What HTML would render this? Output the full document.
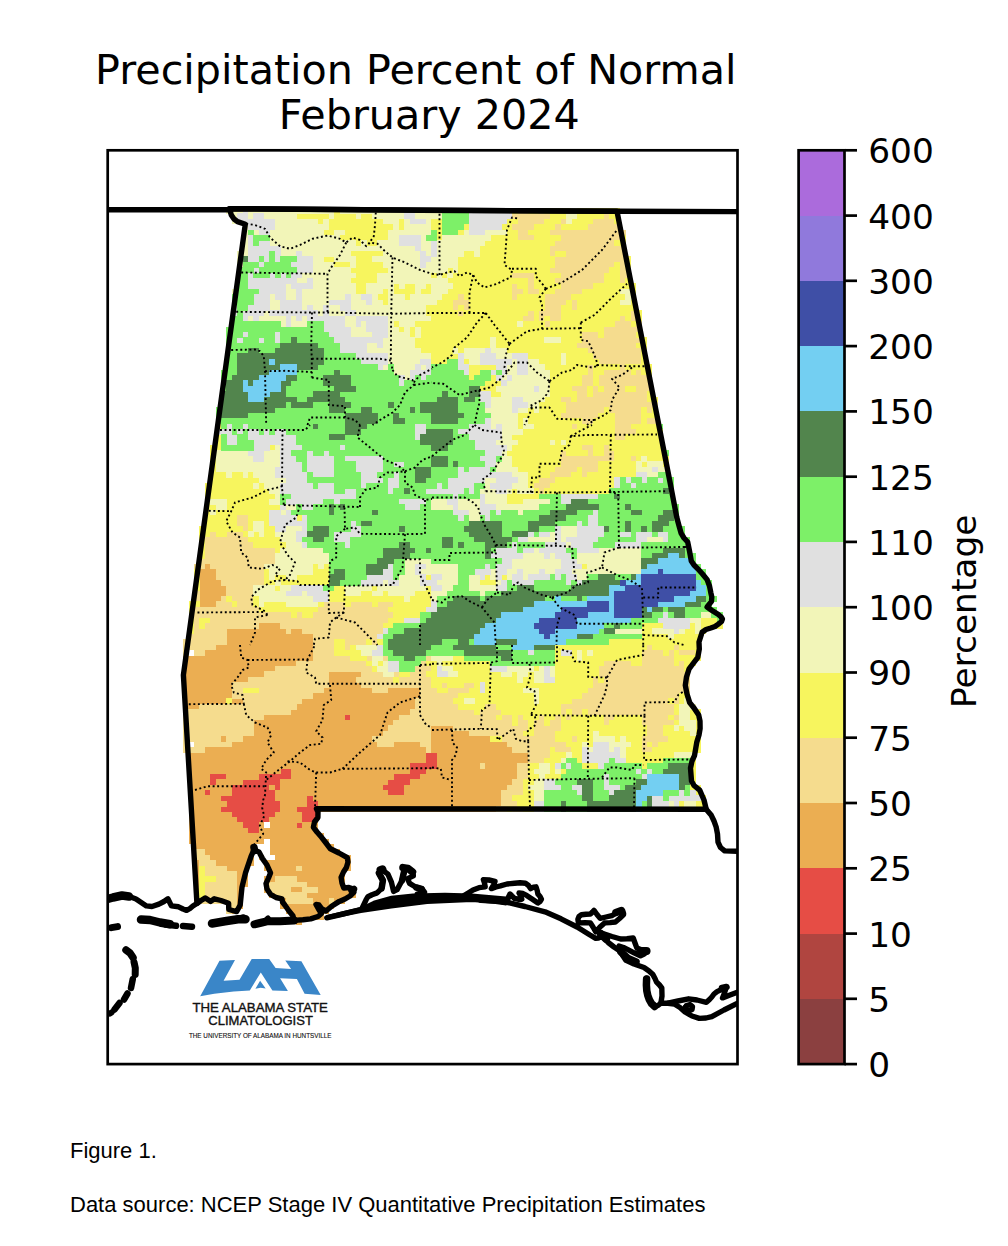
<!DOCTYPE html>
<html lang="en">
<head>
<meta charset="utf-8">
<title>Precipitation Percent of Normal - February 2024</title>
<style>
html,body{margin:0;padding:0;background:#fff;}
body{width:1008px;height:1246px;position:relative;overflow:hidden;font-family:"Liberation Sans",sans-serif;}
svg{position:absolute;left:0;top:0;}
.dj{font-family:"DejaVu Sans","Liberation Sans",sans-serif;fill:#000;}
.cap{position:absolute;left:70px;font-size:22px;line-height:26px;color:#000;white-space:nowrap;}
</style>
</head>
<body>
<svg width="1008" height="1246" viewBox="0 0 1008 1246">
<defs>
<clipPath id="frame"><rect x="108" y="151" width="629" height="912"/></clipPath>
</defs>
<!-- title -->
<text class="dj" x="415.8" y="84" font-size="41.25" text-anchor="middle">Precipitation Percent of Normal</text>
<text class="dj" x="429.3" y="128.6" font-size="41.25" text-anchor="middle">February 2024</text>

<g clip-path="url(#frame)" shape-rendering="crispEdges">
<path fill="#e64d45" d="M344.92,714.60h5.69v5.69h-5.69zM425.77,752.33h11.08v5.69h-11.08zM425.77,757.72h11.08v5.69h-11.08zM409.60,763.11h27.25v5.69h-27.25zM280.24,768.50h11.08v5.69h-11.08zM409.60,768.50h16.47v5.69h-16.47zM210.17,773.89h16.47v5.69h-16.47zM258.68,773.89h32.64v5.69h-32.64zM393.43,773.89h27.25v5.69h-27.25zM210.17,779.28h5.69v5.69h-5.69zM242.51,779.28h38.03v5.69h-38.03zM388.04,779.28h21.86v5.69h-21.86zM231.73,784.67h38.03v5.69h-38.03zM274.85,784.67h5.69v5.69h-5.69zM382.65,784.67h21.86v5.69h-21.86zM204.78,790.06h5.69v5.69h-5.69zM231.73,790.06h43.42v5.69h-43.42zM388.04,790.06h16.47v5.69h-16.47zM220.95,795.45h54.20v5.69h-54.20zM307.19,795.45h5.69v5.69h-5.69zM226.34,800.84h54.20v5.69h-54.20zM307.19,800.84h11.08v5.69h-11.08zM220.95,806.23h59.59v5.69h-59.59zM296.41,806.23h21.86v5.69h-21.86zM231.73,811.62h43.42v5.69h-43.42zM301.80,811.62h16.47v5.69h-16.47zM237.12,817.01h32.64v5.69h-32.64zM301.80,817.01h16.47v5.69h-16.47zM242.51,822.40h16.47v5.69h-16.47zM296.41,822.40h5.69v5.69h-5.69zM247.90,827.79h11.08v5.69h-11.08z"/>
<path fill="#ebae52" d="M204.78,563.68h5.69v5.69h-5.69zM199.39,569.07h16.47v5.69h-16.47zM199.39,574.46h16.47v5.69h-16.47zM199.39,579.85h21.86v5.69h-21.86zM199.39,585.24h27.25v5.69h-27.25zM199.39,590.63h27.25v5.69h-27.25zM199.39,596.02h21.86v5.69h-21.86zM199.39,601.41h16.47v5.69h-16.47zM258.68,622.97h21.86v5.69h-21.86zM226.34,628.36h59.59v5.69h-59.59zM291.02,628.36h11.08v5.69h-11.08zM226.34,633.75h86.54v5.69h-86.54zM226.34,639.14h86.54v5.69h-86.54zM215.56,644.53h97.32v5.69h-97.32zM204.78,649.92h108.10v5.69h-108.10zM183.22,655.31h129.66v5.69h-129.66zM183.22,660.70h113.49v5.69h-113.49zM183.22,666.09h91.93v5.69h-91.93zM183.22,671.48h81.15v5.69h-81.15zM328.75,671.48h32.64v5.69h-32.64zM183.22,676.87h64.98v5.69h-64.98zM328.75,676.87h27.25v5.69h-27.25zM183.22,682.26h48.81v5.69h-48.81zM328.75,682.26h32.64v5.69h-32.64zM183.22,687.65h48.81v5.69h-48.81zM323.36,687.65h48.81v5.69h-48.81zM388.04,687.65h32.64v5.69h-32.64zM183.22,693.04h48.81v5.69h-48.81zM312.58,693.04h108.10v5.69h-108.10zM183.22,698.43h43.42v5.69h-43.42zM231.73,698.43h11.08v5.69h-11.08zM301.80,698.43h113.49v5.69h-113.49zM183.22,703.82h16.47v5.69h-16.47zM296.41,703.82h118.88v5.69h-118.88zM291.02,709.21h118.88v5.69h-118.88zM264.07,714.60h81.15v5.69h-81.15zM350.31,714.60h48.81v5.69h-48.81zM253.29,719.99h140.44v5.69h-140.44zM253.29,725.38h135.05v5.69h-135.05zM431.16,725.38h21.86v5.69h-21.86zM253.29,730.77h129.66v5.69h-129.66zM431.16,730.77h38.03v5.69h-38.03zM220.95,736.16h5.69v5.69h-5.69zM242.51,736.16h129.66v5.69h-129.66zM431.16,736.16h59.59v5.69h-59.59zM231.73,741.55h145.83v5.69h-145.83zM393.43,741.55h27.25v5.69h-27.25zM431.16,741.55h75.76v5.69h-75.76zM204.78,746.94h221.29v5.69h-221.29zM431.16,746.94h81.15v5.69h-81.15zM188.61,752.33h237.46v5.69h-237.46zM436.55,752.33h91.93v5.69h-91.93zM188.61,757.72h237.46v5.69h-237.46zM436.55,757.72h91.93v5.69h-91.93zM188.61,763.11h221.29v5.69h-221.29zM436.55,763.11h43.42v5.69h-43.42zM485.06,763.11h32.64v5.69h-32.64zM188.61,768.50h91.93v5.69h-91.93zM291.02,768.50h118.88v5.69h-118.88zM425.77,768.50h91.93v5.69h-91.93zM188.61,773.89h21.86v5.69h-21.86zM226.34,773.89h32.64v5.69h-32.64zM291.02,773.89h102.71v5.69h-102.71zM420.38,773.89h97.32v5.69h-97.32zM188.61,779.28h21.86v5.69h-21.86zM215.56,779.28h27.25v5.69h-27.25zM280.24,779.28h108.10v5.69h-108.10zM409.60,779.28h102.71v5.69h-102.71zM188.61,784.67h43.42v5.69h-43.42zM269.46,784.67h5.69v5.69h-5.69zM280.24,784.67h102.71v5.69h-102.71zM404.21,784.67h102.71v5.69h-102.71zM188.61,790.06h16.47v5.69h-16.47zM210.17,790.06h21.86v5.69h-21.86zM274.85,790.06h113.49v5.69h-113.49zM404.21,790.06h97.32v5.69h-97.32zM188.61,795.45h32.64v5.69h-32.64zM274.85,795.45h32.64v5.69h-32.64zM312.58,795.45h188.95v5.69h-188.95zM188.61,800.84h38.03v5.69h-38.03zM280.24,800.84h27.25v5.69h-27.25zM317.97,800.84h183.56v5.69h-183.56zM188.61,806.23h32.64v5.69h-32.64zM280.24,806.23h16.47v5.69h-16.47zM317.97,806.23h178.17v5.69h-178.17zM188.61,811.62h43.42v5.69h-43.42zM274.85,811.62h27.25v5.69h-27.25zM188.61,817.01h48.81v5.69h-48.81zM269.46,817.01h32.64v5.69h-32.64zM188.61,822.40h54.20v5.69h-54.20zM258.68,822.40h5.69v5.69h-5.69zM269.46,822.40h27.25v5.69h-27.25zM301.80,822.40h16.47v5.69h-16.47zM188.61,827.79h59.59v5.69h-59.59zM258.68,827.79h59.59v5.69h-59.59zM188.61,833.18h135.05v5.69h-135.05zM188.61,838.57h75.76v5.69h-75.76zM269.46,838.57h59.59v5.69h-59.59zM194.00,843.96h59.59v5.69h-59.59zM269.46,843.96h64.98v5.69h-64.98zM204.78,849.35h48.81v5.69h-48.81zM269.46,849.35h70.37v5.69h-70.37zM210.17,854.74h43.42v5.69h-43.42zM258.68,854.74h5.69v5.69h-5.69zM274.85,854.74h75.76v5.69h-75.76zM194.00,860.13h5.69v5.69h-5.69zM215.56,860.13h38.03v5.69h-38.03zM264.07,860.13h86.54v5.69h-86.54zM194.00,865.52h5.69v5.69h-5.69zM226.34,865.52h21.86v5.69h-21.86zM264.07,865.52h32.64v5.69h-32.64zM301.80,865.52h48.81v5.69h-48.81zM194.00,870.91h5.69v5.69h-5.69zM237.12,870.91h11.08v5.69h-11.08zM269.46,870.91h75.76v5.69h-75.76zM194.00,876.30h5.69v5.69h-5.69zM237.12,876.30h11.08v5.69h-11.08zM264.07,876.30h11.08v5.69h-11.08zM296.41,876.30h48.81v5.69h-48.81zM194.00,881.69h5.69v5.69h-5.69zM237.12,881.69h11.08v5.69h-11.08zM264.07,881.69h5.69v5.69h-5.69zM307.19,881.69h38.03v5.69h-38.03zM194.00,887.08h5.69v5.69h-5.69zM237.12,887.08h5.69v5.69h-5.69zM264.07,887.08h5.69v5.69h-5.69zM291.02,887.08h11.08v5.69h-11.08zM317.97,887.08h38.03v5.69h-38.03zM194.00,892.47h5.69v5.69h-5.69zM237.12,892.47h5.69v5.69h-5.69zM269.46,892.47h5.69v5.69h-5.69zM307.19,892.47h48.81v5.69h-48.81zM194.00,897.86h5.69v5.69h-5.69zM237.12,897.86h5.69v5.69h-5.69zM280.24,897.86h5.69v5.69h-5.69zM312.58,897.86h16.47v5.69h-16.47zM334.14,897.86h11.08v5.69h-11.08zM237.12,903.25h5.69v5.69h-5.69zM280.24,903.25h54.20v5.69h-54.20zM231.73,908.64h5.69v5.69h-5.69zM285.63,908.64h43.42v5.69h-43.42zM291.02,914.03h32.64v5.69h-32.64zM296.41,919.42h5.69v5.69h-5.69z"/>
<path fill="#f5dc8e" d="M517.40,207.94h11.08v5.69h-11.08zM538.96,207.94h5.69v5.69h-5.69zM512.01,213.33h38.03v5.69h-38.03zM603.64,213.33h5.69v5.69h-5.69zM517.40,218.72h27.25v5.69h-27.25zM560.52,218.72h5.69v5.69h-5.69zM592.86,218.72h21.86v5.69h-21.86zM512.01,224.11h21.86v5.69h-21.86zM555.13,224.11h5.69v5.69h-5.69zM587.47,224.11h32.64v5.69h-32.64zM517.40,229.50h11.08v5.69h-11.08zM549.74,229.50h75.76v5.69h-75.76zM517.40,234.89h16.47v5.69h-16.47zM560.52,234.89h59.59v5.69h-59.59zM555.13,240.28h59.59v5.69h-59.59zM549.74,245.67h75.76v5.69h-75.76zM549.74,251.06h5.69v5.69h-5.69zM565.91,251.06h59.59v5.69h-59.59zM555.13,256.45h70.37v5.69h-70.37zM555.13,261.84h59.59v5.69h-59.59zM619.81,261.84h5.69v5.69h-5.69zM549.74,267.23h59.59v5.69h-59.59zM619.81,267.23h11.08v5.69h-11.08zM512.01,272.62h21.86v5.69h-21.86zM560.52,272.62h43.42v5.69h-43.42zM619.81,272.62h11.08v5.69h-11.08zM528.18,278.01h5.69v5.69h-5.69zM555.13,278.01h48.81v5.69h-48.81zM619.81,278.01h5.69v5.69h-5.69zM512.01,283.40h5.69v5.69h-5.69zM528.18,283.40h5.69v5.69h-5.69zM560.52,283.40h32.64v5.69h-32.64zM512.01,288.79h11.08v5.69h-11.08zM528.18,288.79h11.08v5.69h-11.08zM555.13,288.79h27.25v5.69h-27.25zM458.11,294.18h5.69v5.69h-5.69zM512.01,294.18h5.69v5.69h-5.69zM544.35,294.18h27.25v5.69h-27.25zM452.72,299.57h16.47v5.69h-16.47zM544.35,299.57h21.86v5.69h-21.86zM571.30,299.57h5.69v5.69h-5.69zM452.72,304.96h5.69v5.69h-5.69zM463.50,304.96h5.69v5.69h-5.69zM544.35,304.96h16.47v5.69h-16.47zM571.30,304.96h5.69v5.69h-5.69zM458.11,310.35h5.69v5.69h-5.69zM528.18,310.35h5.69v5.69h-5.69zM538.96,310.35h21.86v5.69h-21.86zM630.59,310.35h5.69v5.69h-5.69zM522.79,315.74h11.08v5.69h-11.08zM538.96,315.74h5.69v5.69h-5.69zM549.74,315.74h11.08v5.69h-11.08zM619.81,315.74h5.69v5.69h-5.69zM630.59,315.74h5.69v5.69h-5.69zM544.35,321.13h5.69v5.69h-5.69zM614.42,321.13h16.47v5.69h-16.47zM635.98,321.13h5.69v5.69h-5.69zM603.64,326.52h38.03v5.69h-38.03zM582.08,331.91h16.47v5.69h-16.47zM603.64,331.91h32.64v5.69h-32.64zM582.08,337.30h59.59v5.69h-59.59zM576.69,342.69h59.59v5.69h-59.59zM587.47,348.08h54.20v5.69h-54.20zM592.86,353.47h48.81v5.69h-48.81zM598.25,358.86h43.42v5.69h-43.42zM587.47,364.25h5.69v5.69h-5.69zM619.81,364.25h5.69v5.69h-5.69zM587.47,369.64h5.69v5.69h-5.69zM603.64,369.64h27.25v5.69h-27.25zM635.98,369.64h5.69v5.69h-5.69zM582.08,375.03h11.08v5.69h-11.08zM598.25,375.03h48.81v5.69h-48.81zM582.08,380.42h11.08v5.69h-11.08zM598.25,380.42h54.20v5.69h-54.20zM571.30,385.81h16.47v5.69h-16.47zM592.86,385.81h5.69v5.69h-5.69zM603.64,385.81h21.86v5.69h-21.86zM635.98,385.81h16.47v5.69h-16.47zM576.69,391.20h11.08v5.69h-11.08zM592.86,391.20h54.20v5.69h-54.20zM560.52,396.59h11.08v5.69h-11.08zM576.69,396.59h70.37v5.69h-70.37zM565.91,401.98h91.93v5.69h-91.93zM565.91,407.37h38.03v5.69h-38.03zM609.03,407.37h32.64v5.69h-32.64zM646.76,407.37h5.69v5.69h-5.69zM560.52,412.76h38.03v5.69h-38.03zM614.42,412.76h27.25v5.69h-27.25zM582.08,418.15h11.08v5.69h-11.08zM614.42,418.15h27.25v5.69h-27.25zM646.76,418.15h11.08v5.69h-11.08zM571.30,423.54h5.69v5.69h-5.69zM614.42,423.54h16.47v5.69h-16.47zM614.42,428.93h21.86v5.69h-21.86zM614.42,434.32h11.08v5.69h-11.08zM582.08,445.10h11.08v5.69h-11.08zM603.64,445.10h5.69v5.69h-5.69zM560.52,450.49h5.69v5.69h-5.69zM587.47,450.49h5.69v5.69h-5.69zM603.64,450.49h11.08v5.69h-11.08zM560.52,455.88h54.20v5.69h-54.20zM630.59,455.88h5.69v5.69h-5.69zM560.52,461.27h38.03v5.69h-38.03zM555.13,466.66h21.86v5.69h-21.86zM582.08,466.66h16.47v5.69h-16.47zM549.74,472.05h21.86v5.69h-21.86zM582.08,472.05h5.69v5.69h-5.69zM538.96,477.44h16.47v5.69h-16.47zM533.57,482.83h16.47v5.69h-16.47zM538.96,488.22h5.69v5.69h-5.69zM237.12,515.17h11.08v5.69h-11.08zM237.12,520.56h11.08v5.69h-11.08zM242.51,525.95h5.69v5.69h-5.69zM210.17,531.34h5.69v5.69h-5.69zM226.34,531.34h16.47v5.69h-16.47zM204.78,536.73h43.42v5.69h-43.42zM204.78,542.12h48.81v5.69h-48.81zM204.78,547.51h70.37v5.69h-70.37zM204.78,552.90h70.37v5.69h-70.37zM199.39,558.29h75.76v5.69h-75.76zM194.00,563.68h11.08v5.69h-11.08zM210.17,563.68h54.20v5.69h-54.20zM215.56,569.07h48.81v5.69h-48.81zM215.56,574.46h48.81v5.69h-48.81zM220.95,579.85h43.42v5.69h-43.42zM226.34,585.24h27.25v5.69h-27.25zM194.00,590.63h5.69v5.69h-5.69zM226.34,590.63h27.25v5.69h-27.25zM194.00,596.02h5.69v5.69h-5.69zM220.95,596.02h5.69v5.69h-5.69zM231.73,596.02h21.86v5.69h-21.86zM215.56,601.41h16.47v5.69h-16.47zM237.12,601.41h16.47v5.69h-16.47zM323.36,601.41h21.86v5.69h-21.86zM350.31,601.41h21.86v5.69h-21.86zM377.26,601.41h16.47v5.69h-16.47zM194.00,606.80h64.98v5.69h-64.98zM317.97,606.80h70.37v5.69h-70.37zM194.00,612.19h97.32v5.69h-97.32zM296.41,612.19h5.69v5.69h-5.69zM312.58,612.19h81.15v5.69h-81.15zM194.00,617.58h5.69v5.69h-5.69zM210.17,617.58h178.17v5.69h-178.17zM194.00,622.97h5.69v5.69h-5.69zM204.78,622.97h54.20v5.69h-54.20zM280.24,622.97h102.71v5.69h-102.71zM194.00,628.36h32.64v5.69h-32.64zM285.63,628.36h5.69v5.69h-5.69zM301.80,628.36h81.15v5.69h-81.15zM188.61,633.75h38.03v5.69h-38.03zM312.58,633.75h64.98v5.69h-64.98zM183.22,639.14h43.42v5.69h-43.42zM312.58,639.14h21.86v5.69h-21.86zM344.92,639.14h21.86v5.69h-21.86zM371.87,639.14h5.69v5.69h-5.69zM183.22,644.53h32.64v5.69h-32.64zM312.58,644.53h21.86v5.69h-21.86zM344.92,644.53h5.69v5.69h-5.69zM646.76,644.53h5.69v5.69h-5.69zM673.71,644.53h5.69v5.69h-5.69zM183.22,649.92h5.69v5.69h-5.69zM194.00,649.92h11.08v5.69h-11.08zM312.58,649.92h21.86v5.69h-21.86zM641.37,649.92h21.86v5.69h-21.86zM668.32,649.92h5.69v5.69h-5.69zM679.10,649.92h16.47v5.69h-16.47zM312.58,655.31h38.03v5.69h-38.03zM366.48,655.31h5.69v5.69h-5.69zM382.65,655.31h5.69v5.69h-5.69zM425.77,655.31h5.69v5.69h-5.69zM641.37,655.31h32.64v5.69h-32.64zM296.41,660.70h70.37v5.69h-70.37zM420.38,660.70h5.69v5.69h-5.69zM603.64,660.70h27.25v5.69h-27.25zM641.37,660.70h32.64v5.69h-32.64zM679.10,660.70h5.69v5.69h-5.69zM274.85,666.09h97.32v5.69h-97.32zM414.99,666.09h16.47v5.69h-16.47zM598.25,666.09h86.54v5.69h-86.54zM264.07,671.48h64.98v5.69h-64.98zM361.09,671.48h21.86v5.69h-21.86zM393.43,671.48h5.69v5.69h-5.69zM409.60,671.48h16.47v5.69h-16.47zM598.25,671.48h91.93v5.69h-91.93zM247.90,676.87h81.15v5.69h-81.15zM355.70,676.87h38.03v5.69h-38.03zM398.82,676.87h32.64v5.69h-32.64zM592.86,676.87h5.69v5.69h-5.69zM603.64,676.87h86.54v5.69h-86.54zM231.73,682.26h97.32v5.69h-97.32zM361.09,682.26h70.37v5.69h-70.37zM441.94,682.26h5.69v5.69h-5.69zM463.50,682.26h11.08v5.69h-11.08zM592.86,682.26h97.32v5.69h-97.32zM231.73,687.65h11.08v5.69h-11.08zM258.68,687.65h64.98v5.69h-64.98zM371.87,687.65h16.47v5.69h-16.47zM420.38,687.65h16.47v5.69h-16.47zM447.33,687.65h21.86v5.69h-21.86zM587.47,687.65h102.71v5.69h-102.71zM231.73,693.04h81.15v5.69h-81.15zM420.38,693.04h38.03v5.69h-38.03zM582.08,693.04h97.32v5.69h-97.32zM242.51,698.43h59.59v5.69h-59.59zM414.99,698.43h38.03v5.69h-38.03zM571.30,698.43h97.32v5.69h-97.32zM673.71,698.43h5.69v5.69h-5.69zM199.39,703.82h97.32v5.69h-97.32zM414.99,703.82h43.42v5.69h-43.42zM485.06,703.82h11.08v5.69h-11.08zM560.52,703.82h113.49v5.69h-113.49zM183.22,709.21h108.10v5.69h-108.10zM409.60,709.21h64.98v5.69h-64.98zM479.67,709.21h21.86v5.69h-21.86zM560.52,709.21h5.69v5.69h-5.69zM571.30,709.21h11.08v5.69h-11.08zM587.47,709.21h86.54v5.69h-86.54zM183.22,714.60h81.15v5.69h-81.15zM398.82,714.60h97.32v5.69h-97.32zM501.23,714.60h11.08v5.69h-11.08zM517.40,714.60h5.69v5.69h-5.69zM538.96,714.60h5.69v5.69h-5.69zM555.13,714.60h5.69v5.69h-5.69zM565.91,714.60h5.69v5.69h-5.69zM603.64,714.60h11.08v5.69h-11.08zM641.37,714.60h27.25v5.69h-27.25zM673.71,714.60h5.69v5.69h-5.69zM183.22,719.99h70.37v5.69h-70.37zM393.43,719.99h118.88v5.69h-118.88zM517.40,719.99h11.08v5.69h-11.08zM533.57,719.99h11.08v5.69h-11.08zM549.74,719.99h11.08v5.69h-11.08zM603.64,719.99h5.69v5.69h-5.69zM641.37,719.99h32.64v5.69h-32.64zM183.22,725.38h70.37v5.69h-70.37zM388.04,725.38h43.42v5.69h-43.42zM452.72,725.38h75.76v5.69h-75.76zM533.57,725.38h27.25v5.69h-27.25zM646.76,725.38h16.47v5.69h-16.47zM183.22,730.77h70.37v5.69h-70.37zM382.65,730.77h48.81v5.69h-48.81zM468.89,730.77h54.20v5.69h-54.20zM533.57,730.77h21.86v5.69h-21.86zM646.76,730.77h16.47v5.69h-16.47zM183.22,736.16h38.03v5.69h-38.03zM226.34,736.16h16.47v5.69h-16.47zM371.87,736.16h59.59v5.69h-59.59zM501.23,736.16h54.20v5.69h-54.20zM571.30,736.16h5.69v5.69h-5.69zM641.37,736.16h27.25v5.69h-27.25zM183.22,741.55h5.69v5.69h-5.69zM194.00,741.55h38.03v5.69h-38.03zM377.26,741.55h16.47v5.69h-16.47zM420.38,741.55h11.08v5.69h-11.08zM506.62,741.55h59.59v5.69h-59.59zM641.37,741.55h5.69v5.69h-5.69zM652.15,741.55h5.69v5.69h-5.69zM183.22,746.94h21.86v5.69h-21.86zM425.77,746.94h5.69v5.69h-5.69zM512.01,746.94h38.03v5.69h-38.03zM555.13,746.94h16.47v5.69h-16.47zM641.37,746.94h11.08v5.69h-11.08zM528.18,752.33h21.86v5.69h-21.86zM528.18,757.72h16.47v5.69h-16.47zM479.67,763.11h5.69v5.69h-5.69zM517.40,763.11h11.08v5.69h-11.08zM517.40,768.50h11.08v5.69h-11.08zM517.40,773.89h11.08v5.69h-11.08zM512.01,779.28h11.08v5.69h-11.08zM506.62,784.67h16.47v5.69h-16.47zM501.23,790.06h21.86v5.69h-21.86zM501.23,795.45h11.08v5.69h-11.08zM501.23,800.84h16.47v5.69h-16.47zM495.84,806.23h11.08v5.69h-11.08zM512.01,806.23h11.08v5.69h-11.08zM194.00,849.35h11.08v5.69h-11.08zM194.00,854.74h16.47v5.69h-16.47zM199.39,860.13h16.47v5.69h-16.47zM204.78,865.52h21.86v5.69h-21.86zM296.41,865.52h5.69v5.69h-5.69zM204.78,870.91h32.64v5.69h-32.64zM215.56,876.30h21.86v5.69h-21.86zM274.85,876.30h21.86v5.69h-21.86zM204.78,881.69h32.64v5.69h-32.64zM269.46,881.69h38.03v5.69h-38.03zM204.78,887.08h32.64v5.69h-32.64zM269.46,887.08h21.86v5.69h-21.86zM301.80,887.08h16.47v5.69h-16.47zM204.78,892.47h32.64v5.69h-32.64zM274.85,892.47h32.64v5.69h-32.64zM199.39,897.86h38.03v5.69h-38.03zM285.63,897.86h27.25v5.69h-27.25zM328.75,897.86h5.69v5.69h-5.69zM226.34,903.25h11.08v5.69h-11.08zM226.34,908.64h5.69v5.69h-5.69z"/>
<path fill="#f7f55e" d="M334.14,207.94h5.69v5.69h-5.69zM431.16,207.94h86.54v5.69h-86.54zM528.18,207.94h11.08v5.69h-11.08zM544.35,207.94h27.25v5.69h-27.25zM576.69,207.94h43.42v5.69h-43.42zM296.41,213.33h32.64v5.69h-32.64zM334.14,213.33h21.86v5.69h-21.86zM361.09,213.33h11.08v5.69h-11.08zM549.74,213.33h16.47v5.69h-16.47zM576.69,213.33h27.25v5.69h-27.25zM609.03,213.33h11.08v5.69h-11.08zM317.97,218.72h5.69v5.69h-5.69zM328.75,218.72h54.20v5.69h-54.20zM398.82,218.72h5.69v5.69h-5.69zM431.16,218.72h11.08v5.69h-11.08zM506.62,218.72h11.08v5.69h-11.08zM544.35,218.72h16.47v5.69h-16.47zM571.30,218.72h21.86v5.69h-21.86zM614.42,218.72h5.69v5.69h-5.69zM328.75,224.11h64.98v5.69h-64.98zM398.82,224.11h5.69v5.69h-5.69zM431.16,224.11h11.08v5.69h-11.08zM463.50,224.11h5.69v5.69h-5.69zM501.23,224.11h11.08v5.69h-11.08zM533.57,224.11h21.86v5.69h-21.86zM560.52,224.11h27.25v5.69h-27.25zM323.36,229.50h11.08v5.69h-11.08zM344.92,229.50h43.42v5.69h-43.42zM436.55,229.50h5.69v5.69h-5.69zM458.11,229.50h5.69v5.69h-5.69zM506.62,229.50h11.08v5.69h-11.08zM528.18,229.50h21.86v5.69h-21.86zM339.53,234.89h48.81v5.69h-48.81zM436.55,234.89h5.69v5.69h-5.69zM490.45,234.89h27.25v5.69h-27.25zM533.57,234.89h27.25v5.69h-27.25zM619.81,234.89h5.69v5.69h-5.69zM355.70,240.28h5.69v5.69h-5.69zM366.48,240.28h11.08v5.69h-11.08zM485.06,240.28h70.37v5.69h-70.37zM614.42,240.28h11.08v5.69h-11.08zM479.67,245.67h70.37v5.69h-70.37zM350.31,251.06h32.64v5.69h-32.64zM463.50,251.06h11.08v5.69h-11.08zM479.67,251.06h70.37v5.69h-70.37zM555.13,251.06h11.08v5.69h-11.08zM323.36,256.45h11.08v5.69h-11.08zM355.70,256.45h16.47v5.69h-16.47zM458.11,256.45h97.32v5.69h-97.32zM625.20,256.45h5.69v5.69h-5.69zM334.14,261.84h16.47v5.69h-16.47zM355.70,261.84h27.25v5.69h-27.25zM458.11,261.84h97.32v5.69h-97.32zM614.42,261.84h5.69v5.69h-5.69zM625.20,261.84h5.69v5.69h-5.69zM350.31,267.23h38.03v5.69h-38.03zM447.33,267.23h5.69v5.69h-5.69zM458.11,267.23h91.93v5.69h-91.93zM609.03,267.23h11.08v5.69h-11.08zM355.70,272.62h21.86v5.69h-21.86zM431.16,272.62h5.69v5.69h-5.69zM441.94,272.62h5.69v5.69h-5.69zM452.72,272.62h59.59v5.69h-59.59zM533.57,272.62h27.25v5.69h-27.25zM603.64,272.62h16.47v5.69h-16.47zM350.31,278.01h27.25v5.69h-27.25zM447.33,278.01h81.15v5.69h-81.15zM533.57,278.01h21.86v5.69h-21.86zM603.64,278.01h16.47v5.69h-16.47zM625.20,278.01h5.69v5.69h-5.69zM355.70,283.40h11.08v5.69h-11.08zM393.43,283.40h5.69v5.69h-5.69zM404.21,283.40h11.08v5.69h-11.08zM425.77,283.40h5.69v5.69h-5.69zM452.72,283.40h59.59v5.69h-59.59zM517.40,283.40h11.08v5.69h-11.08zM533.57,283.40h27.25v5.69h-27.25zM592.86,283.40h43.42v5.69h-43.42zM355.70,288.79h11.08v5.69h-11.08zM382.65,288.79h5.69v5.69h-5.69zM393.43,288.79h21.86v5.69h-21.86zM420.38,288.79h11.08v5.69h-11.08zM447.33,288.79h64.98v5.69h-64.98zM522.79,288.79h5.69v5.69h-5.69zM538.96,288.79h16.47v5.69h-16.47zM582.08,288.79h38.03v5.69h-38.03zM630.59,288.79h5.69v5.69h-5.69zM377.26,294.18h11.08v5.69h-11.08zM404.21,294.18h5.69v5.69h-5.69zM441.94,294.18h16.47v5.69h-16.47zM463.50,294.18h48.81v5.69h-48.81zM517.40,294.18h27.25v5.69h-27.25zM571.30,294.18h54.20v5.69h-54.20zM382.65,299.57h5.69v5.69h-5.69zM436.55,299.57h16.47v5.69h-16.47zM468.89,299.57h75.76v5.69h-75.76zM565.91,299.57h5.69v5.69h-5.69zM576.69,299.57h43.42v5.69h-43.42zM630.59,299.57h5.69v5.69h-5.69zM425.77,304.96h27.25v5.69h-27.25zM458.11,304.96h5.69v5.69h-5.69zM468.89,304.96h75.76v5.69h-75.76zM560.52,304.96h11.08v5.69h-11.08zM576.69,304.96h59.59v5.69h-59.59zM425.77,310.35h32.64v5.69h-32.64zM463.50,310.35h64.98v5.69h-64.98zM533.57,310.35h5.69v5.69h-5.69zM560.52,310.35h70.37v5.69h-70.37zM635.98,310.35h5.69v5.69h-5.69zM431.16,315.74h91.93v5.69h-91.93zM533.57,315.74h5.69v5.69h-5.69zM544.35,315.74h5.69v5.69h-5.69zM560.52,315.74h59.59v5.69h-59.59zM625.20,315.74h5.69v5.69h-5.69zM635.98,315.74h5.69v5.69h-5.69zM393.43,321.13h5.69v5.69h-5.69zM414.99,321.13h102.71v5.69h-102.71zM522.79,321.13h21.86v5.69h-21.86zM549.74,321.13h64.98v5.69h-64.98zM630.59,321.13h5.69v5.69h-5.69zM398.82,326.52h5.69v5.69h-5.69zM409.60,326.52h5.69v5.69h-5.69zM420.38,326.52h183.56v5.69h-183.56zM409.60,331.91h5.69v5.69h-5.69zM420.38,331.91h162.00v5.69h-162.00zM598.25,331.91h5.69v5.69h-5.69zM635.98,331.91h5.69v5.69h-5.69zM414.99,337.30h75.76v5.69h-75.76zM495.84,337.30h48.81v5.69h-48.81zM560.52,337.30h21.86v5.69h-21.86zM641.37,337.30h5.69v5.69h-5.69zM414.99,342.69h75.76v5.69h-75.76zM495.84,342.69h81.15v5.69h-81.15zM635.98,342.69h11.08v5.69h-11.08zM420.38,348.08h32.64v5.69h-32.64zM458.11,348.08h5.69v5.69h-5.69zM506.62,348.08h81.15v5.69h-81.15zM641.37,348.08h5.69v5.69h-5.69zM431.16,353.47h27.25v5.69h-27.25zM528.18,353.47h32.64v5.69h-32.64zM565.91,353.47h27.25v5.69h-27.25zM641.37,353.47h5.69v5.69h-5.69zM431.16,358.86h16.47v5.69h-16.47zM463.50,358.86h5.69v5.69h-5.69zM538.96,358.86h21.86v5.69h-21.86zM565.91,358.86h32.64v5.69h-32.64zM641.37,358.86h5.69v5.69h-5.69zM468.89,364.25h27.25v5.69h-27.25zM544.35,364.25h43.42v5.69h-43.42zM592.86,364.25h27.25v5.69h-27.25zM625.20,364.25h27.25v5.69h-27.25zM468.89,369.64h11.08v5.69h-11.08zM549.74,369.64h38.03v5.69h-38.03zM592.86,369.64h11.08v5.69h-11.08zM630.59,369.64h5.69v5.69h-5.69zM641.37,369.64h11.08v5.69h-11.08zM468.89,375.03h5.69v5.69h-5.69zM490.45,375.03h5.69v5.69h-5.69zM549.74,375.03h32.64v5.69h-32.64zM592.86,375.03h5.69v5.69h-5.69zM646.76,375.03h5.69v5.69h-5.69zM485.06,380.42h16.47v5.69h-16.47zM549.74,380.42h32.64v5.69h-32.64zM592.86,380.42h5.69v5.69h-5.69zM479.67,385.81h16.47v5.69h-16.47zM549.74,385.81h21.86v5.69h-21.86zM587.47,385.81h5.69v5.69h-5.69zM598.25,385.81h5.69v5.69h-5.69zM625.20,385.81h11.08v5.69h-11.08zM490.45,391.20h11.08v5.69h-11.08zM549.74,391.20h27.25v5.69h-27.25zM587.47,391.20h5.69v5.69h-5.69zM646.76,391.20h5.69v5.69h-5.69zM544.35,396.59h16.47v5.69h-16.47zM571.30,396.59h5.69v5.69h-5.69zM646.76,396.59h11.08v5.69h-11.08zM538.96,401.98h27.25v5.69h-27.25zM528.18,407.37h5.69v5.69h-5.69zM538.96,407.37h27.25v5.69h-27.25zM603.64,407.37h5.69v5.69h-5.69zM641.37,407.37h5.69v5.69h-5.69zM652.15,407.37h5.69v5.69h-5.69zM517.40,412.76h43.42v5.69h-43.42zM598.25,412.76h16.47v5.69h-16.47zM641.37,412.76h16.47v5.69h-16.47zM517.40,418.15h5.69v5.69h-5.69zM528.18,418.15h54.20v5.69h-54.20zM592.86,418.15h21.86v5.69h-21.86zM641.37,418.15h5.69v5.69h-5.69zM215.56,423.54h5.69v5.69h-5.69zM517.40,423.54h5.69v5.69h-5.69zM533.57,423.54h38.03v5.69h-38.03zM576.69,423.54h38.03v5.69h-38.03zM630.59,423.54h27.25v5.69h-27.25zM522.79,428.93h91.93v5.69h-91.93zM635.98,428.93h27.25v5.69h-27.25zM215.56,434.32h5.69v5.69h-5.69zM512.01,434.32h102.71v5.69h-102.71zM625.20,434.32h38.03v5.69h-38.03zM215.56,439.71h5.69v5.69h-5.69zM517.40,439.71h32.64v5.69h-32.64zM555.13,439.71h5.69v5.69h-5.69zM565.91,439.71h97.32v5.69h-97.32zM210.17,445.10h11.08v5.69h-11.08zM269.46,445.10h5.69v5.69h-5.69zM512.01,445.10h70.37v5.69h-70.37zM592.86,445.10h11.08v5.69h-11.08zM609.03,445.10h54.20v5.69h-54.20zM210.17,450.49h5.69v5.69h-5.69zM506.62,450.49h54.20v5.69h-54.20zM565.91,450.49h21.86v5.69h-21.86zM592.86,450.49h11.08v5.69h-11.08zM614.42,450.49h48.81v5.69h-48.81zM210.17,455.88h5.69v5.69h-5.69zM512.01,455.88h48.81v5.69h-48.81zM614.42,455.88h16.47v5.69h-16.47zM635.98,455.88h5.69v5.69h-5.69zM646.76,455.88h21.86v5.69h-21.86zM210.17,461.27h5.69v5.69h-5.69zM512.01,461.27h48.81v5.69h-48.81zM598.25,461.27h38.03v5.69h-38.03zM641.37,461.27h5.69v5.69h-5.69zM662.93,461.27h5.69v5.69h-5.69zM210.17,466.66h5.69v5.69h-5.69zM517.40,466.66h38.03v5.69h-38.03zM576.69,466.66h5.69v5.69h-5.69zM598.25,466.66h38.03v5.69h-38.03zM210.17,472.05h16.47v5.69h-16.47zM231.73,472.05h11.08v5.69h-11.08zM247.90,472.05h5.69v5.69h-5.69zM528.18,472.05h21.86v5.69h-21.86zM571.30,472.05h11.08v5.69h-11.08zM587.47,472.05h48.81v5.69h-48.81zM210.17,477.44h48.81v5.69h-48.81zM528.18,477.44h11.08v5.69h-11.08zM555.13,477.44h59.59v5.69h-59.59zM204.78,482.83h48.81v5.69h-48.81zM258.68,482.83h5.69v5.69h-5.69zM528.18,482.83h5.69v5.69h-5.69zM549.74,482.83h64.98v5.69h-64.98zM204.78,488.22h64.98v5.69h-64.98zM512.01,488.22h5.69v5.69h-5.69zM533.57,488.22h5.69v5.69h-5.69zM544.35,488.22h64.98v5.69h-64.98zM204.78,493.61h70.37v5.69h-70.37zM506.62,493.61h32.64v5.69h-32.64zM204.78,499.00h5.69v5.69h-5.69zM226.34,499.00h43.42v5.69h-43.42zM506.62,499.00h16.47v5.69h-16.47zM204.78,504.39h11.08v5.69h-11.08zM226.34,504.39h54.20v5.69h-54.20zM204.78,509.78h5.69v5.69h-5.69zM215.56,509.78h54.20v5.69h-54.20zM204.78,515.17h32.64v5.69h-32.64zM247.90,515.17h21.86v5.69h-21.86zM296.41,515.17h5.69v5.69h-5.69zM204.78,520.56h32.64v5.69h-32.64zM247.90,520.56h5.69v5.69h-5.69zM264.07,520.56h5.69v5.69h-5.69zM199.39,525.95h43.42v5.69h-43.42zM247.90,525.95h5.69v5.69h-5.69zM264.07,525.95h11.08v5.69h-11.08zM199.39,531.34h11.08v5.69h-11.08zM215.56,531.34h11.08v5.69h-11.08zM242.51,531.34h5.69v5.69h-5.69zM253.29,531.34h5.69v5.69h-5.69zM264.07,531.34h11.08v5.69h-11.08zM199.39,536.73h5.69v5.69h-5.69zM247.90,536.73h32.64v5.69h-32.64zM199.39,542.12h5.69v5.69h-5.69zM253.29,542.12h32.64v5.69h-32.64zM199.39,547.51h5.69v5.69h-5.69zM274.85,547.51h5.69v5.69h-5.69zM199.39,552.90h5.69v5.69h-5.69zM312.58,563.68h5.69v5.69h-5.69zM323.36,563.68h5.69v5.69h-5.69zM582.08,563.68h5.69v5.69h-5.69zM194.00,569.07h5.69v5.69h-5.69zM264.07,569.07h5.69v5.69h-5.69zM312.58,569.07h16.47v5.69h-16.47zM194.00,574.46h5.69v5.69h-5.69zM264.07,574.46h5.69v5.69h-5.69zM274.85,574.46h11.08v5.69h-11.08zM296.41,574.46h32.64v5.69h-32.64zM425.77,574.46h5.69v5.69h-5.69zM485.06,574.46h5.69v5.69h-5.69zM501.23,574.46h5.69v5.69h-5.69zM194.00,579.85h5.69v5.69h-5.69zM264.07,579.85h11.08v5.69h-11.08zM280.24,579.85h48.81v5.69h-48.81zM479.67,579.85h16.47v5.69h-16.47zM194.00,585.24h5.69v5.69h-5.69zM274.85,585.24h5.69v5.69h-5.69zM334.14,585.24h11.08v5.69h-11.08zM371.87,585.24h5.69v5.69h-5.69zM425.77,585.24h5.69v5.69h-5.69zM328.75,590.63h16.47v5.69h-16.47zM361.09,590.63h11.08v5.69h-11.08zM382.65,590.63h5.69v5.69h-5.69zM414.99,590.63h16.47v5.69h-16.47zM226.34,596.02h5.69v5.69h-5.69zM253.29,596.02h5.69v5.69h-5.69zM328.75,596.02h75.76v5.69h-75.76zM409.60,596.02h21.86v5.69h-21.86zM188.61,601.41h11.08v5.69h-11.08zM231.73,601.41h5.69v5.69h-5.69zM253.29,601.41h5.69v5.69h-5.69zM264.07,601.41h21.86v5.69h-21.86zM317.97,601.41h5.69v5.69h-5.69zM344.92,601.41h5.69v5.69h-5.69zM371.87,601.41h5.69v5.69h-5.69zM393.43,601.41h38.03v5.69h-38.03zM188.61,606.80h5.69v5.69h-5.69zM258.68,606.80h59.59v5.69h-59.59zM388.04,606.80h38.03v5.69h-38.03zM188.61,612.19h5.69v5.69h-5.69zM291.02,612.19h5.69v5.69h-5.69zM301.80,612.19h11.08v5.69h-11.08zM393.43,612.19h27.25v5.69h-27.25zM188.61,617.58h5.69v5.69h-5.69zM199.39,617.58h11.08v5.69h-11.08zM388.04,617.58h16.47v5.69h-16.47zM700.66,617.58h16.47v5.69h-16.47zM188.61,622.97h5.69v5.69h-5.69zM199.39,622.97h5.69v5.69h-5.69zM382.65,622.97h11.08v5.69h-11.08zM641.37,622.97h21.86v5.69h-21.86zM689.88,622.97h5.69v5.69h-5.69zM700.66,622.97h21.86v5.69h-21.86zM188.61,628.36h5.69v5.69h-5.69zM641.37,628.36h11.08v5.69h-11.08zM684.49,628.36h11.08v5.69h-11.08zM700.66,628.36h5.69v5.69h-5.69zM641.37,633.75h27.25v5.69h-27.25zM673.71,633.75h27.25v5.69h-27.25zM334.14,639.14h11.08v5.69h-11.08zM366.48,639.14h5.69v5.69h-5.69zM377.26,639.14h5.69v5.69h-5.69zM609.03,639.14h91.93v5.69h-91.93zM334.14,644.53h11.08v5.69h-11.08zM350.31,644.53h5.69v5.69h-5.69zM555.13,644.53h91.93v5.69h-91.93zM652.15,644.53h21.86v5.69h-21.86zM679.10,644.53h21.86v5.69h-21.86zM334.14,649.92h27.25v5.69h-27.25zM555.13,649.92h5.69v5.69h-5.69zM571.30,649.92h5.69v5.69h-5.69zM582.08,649.92h5.69v5.69h-5.69zM592.86,649.92h48.81v5.69h-48.81zM662.93,649.92h5.69v5.69h-5.69zM673.71,649.92h5.69v5.69h-5.69zM695.27,649.92h5.69v5.69h-5.69zM350.31,655.31h16.47v5.69h-16.47zM452.72,655.31h11.08v5.69h-11.08zM555.13,655.31h21.86v5.69h-21.86zM582.08,655.31h59.59v5.69h-59.59zM673.71,655.31h27.25v5.69h-27.25zM366.48,660.70h5.69v5.69h-5.69zM377.26,660.70h5.69v5.69h-5.69zM425.77,660.70h11.08v5.69h-11.08zM441.94,660.70h48.81v5.69h-48.81zM555.13,660.70h48.81v5.69h-48.81zM630.59,660.70h11.08v5.69h-11.08zM673.71,660.70h5.69v5.69h-5.69zM684.49,660.70h11.08v5.69h-11.08zM371.87,666.09h5.69v5.69h-5.69zM431.16,666.09h5.69v5.69h-5.69zM452.72,666.09h38.03v5.69h-38.03zM533.57,666.09h5.69v5.69h-5.69zM555.13,666.09h43.42v5.69h-43.42zM684.49,666.09h5.69v5.69h-5.69zM398.82,671.48h11.08v5.69h-11.08zM425.77,671.48h11.08v5.69h-11.08zM458.11,671.48h43.42v5.69h-43.42zM512.01,671.48h5.69v5.69h-5.69zM528.18,671.48h5.69v5.69h-5.69zM555.13,671.48h43.42v5.69h-43.42zM393.43,676.87h5.69v5.69h-5.69zM431.16,676.87h86.54v5.69h-86.54zM522.79,676.87h11.08v5.69h-11.08zM555.13,676.87h38.03v5.69h-38.03zM598.25,676.87h5.69v5.69h-5.69zM431.16,682.26h11.08v5.69h-11.08zM447.33,682.26h16.47v5.69h-16.47zM474.28,682.26h5.69v5.69h-5.69zM485.06,682.26h108.10v5.69h-108.10zM242.51,687.65h16.47v5.69h-16.47zM436.55,687.65h11.08v5.69h-11.08zM468.89,687.65h11.08v5.69h-11.08zM485.06,687.65h38.03v5.69h-38.03zM538.96,687.65h48.81v5.69h-48.81zM458.11,693.04h75.76v5.69h-75.76zM538.96,693.04h43.42v5.69h-43.42zM679.10,693.04h11.08v5.69h-11.08zM226.34,698.43h5.69v5.69h-5.69zM452.72,698.43h11.08v5.69h-11.08zM474.28,698.43h59.59v5.69h-59.59zM538.96,698.43h32.64v5.69h-32.64zM668.32,698.43h5.69v5.69h-5.69zM679.10,698.43h5.69v5.69h-5.69zM458.11,703.82h27.25v5.69h-27.25zM495.84,703.82h64.98v5.69h-64.98zM673.71,703.82h5.69v5.69h-5.69zM474.28,709.21h5.69v5.69h-5.69zM501.23,709.21h59.59v5.69h-59.59zM565.91,709.21h5.69v5.69h-5.69zM582.08,709.21h5.69v5.69h-5.69zM673.71,709.21h5.69v5.69h-5.69zM689.88,709.21h11.08v5.69h-11.08zM495.84,714.60h5.69v5.69h-5.69zM512.01,714.60h5.69v5.69h-5.69zM522.79,714.60h16.47v5.69h-16.47zM544.35,714.60h11.08v5.69h-11.08zM560.52,714.60h5.69v5.69h-5.69zM571.30,714.60h32.64v5.69h-32.64zM614.42,714.60h27.25v5.69h-27.25zM668.32,714.60h5.69v5.69h-5.69zM689.88,714.60h11.08v5.69h-11.08zM512.01,719.99h5.69v5.69h-5.69zM528.18,719.99h5.69v5.69h-5.69zM544.35,719.99h5.69v5.69h-5.69zM560.52,719.99h43.42v5.69h-43.42zM609.03,719.99h32.64v5.69h-32.64zM673.71,719.99h5.69v5.69h-5.69zM695.27,719.99h5.69v5.69h-5.69zM528.18,725.38h5.69v5.69h-5.69zM560.52,725.38h86.54v5.69h-86.54zM662.93,725.38h11.08v5.69h-11.08zM679.10,725.38h5.69v5.69h-5.69zM695.27,725.38h5.69v5.69h-5.69zM522.79,730.77h11.08v5.69h-11.08zM555.13,730.77h38.03v5.69h-38.03zM598.25,730.77h48.81v5.69h-48.81zM662.93,730.77h27.25v5.69h-27.25zM695.27,730.77h5.69v5.69h-5.69zM490.45,736.16h11.08v5.69h-11.08zM555.13,736.16h16.47v5.69h-16.47zM576.69,736.16h16.47v5.69h-16.47zM614.42,736.16h5.69v5.69h-5.69zM625.20,736.16h16.47v5.69h-16.47zM668.32,736.16h32.64v5.69h-32.64zM565.91,741.55h16.47v5.69h-16.47zM587.47,741.55h5.69v5.69h-5.69zM630.59,741.55h11.08v5.69h-11.08zM646.76,741.55h5.69v5.69h-5.69zM657.54,741.55h43.42v5.69h-43.42zM549.74,746.94h5.69v5.69h-5.69zM571.30,746.94h11.08v5.69h-11.08zM625.20,746.94h16.47v5.69h-16.47zM652.15,746.94h48.81v5.69h-48.81zM549.74,752.33h16.47v5.69h-16.47zM571.30,752.33h11.08v5.69h-11.08zM625.20,752.33h48.81v5.69h-48.81zM544.35,757.72h16.47v5.69h-16.47zM576.69,757.72h5.69v5.69h-5.69zM625.20,757.72h38.03v5.69h-38.03zM689.88,757.72h5.69v5.69h-5.69zM528.18,763.11h11.08v5.69h-11.08zM549.74,763.11h5.69v5.69h-5.69zM582.08,763.11h16.47v5.69h-16.47zM641.37,763.11h5.69v5.69h-5.69zM689.88,763.11h5.69v5.69h-5.69zM528.18,768.50h5.69v5.69h-5.69zM549.74,768.50h5.69v5.69h-5.69zM560.52,768.50h5.69v5.69h-5.69zM689.88,768.50h5.69v5.69h-5.69zM528.18,773.89h11.08v5.69h-11.08zM544.35,773.89h16.47v5.69h-16.47zM689.88,773.89h5.69v5.69h-5.69zM522.79,779.28h11.08v5.69h-11.08zM689.88,779.28h5.69v5.69h-5.69zM522.79,784.67h5.69v5.69h-5.69zM689.88,784.67h11.08v5.69h-11.08zM522.79,790.06h11.08v5.69h-11.08zM695.27,790.06h5.69v5.69h-5.69zM512.01,795.45h21.86v5.69h-21.86zM700.66,795.45h5.69v5.69h-5.69zM517.40,800.84h16.47v5.69h-16.47zM679.10,800.84h5.69v5.69h-5.69zM695.27,800.84h11.08v5.69h-11.08zM506.62,806.23h5.69v5.69h-5.69zM522.79,806.23h11.08v5.69h-11.08zM641.37,806.23h43.42v5.69h-43.42zM689.88,806.23h16.47v5.69h-16.47zM199.39,865.52h5.69v5.69h-5.69zM199.39,870.91h5.69v5.69h-5.69zM199.39,876.30h16.47v5.69h-16.47zM199.39,881.69h5.69v5.69h-5.69zM199.39,887.08h5.69v5.69h-5.69zM199.39,892.47h5.69v5.69h-5.69z"/>
<path fill="#f2f5b8" d="M226.34,207.94h16.47v5.69h-16.47zM247.90,207.94h86.54v5.69h-86.54zM339.53,207.94h91.93v5.69h-91.93zM571.30,207.94h5.69v5.69h-5.69zM231.73,213.33h5.69v5.69h-5.69zM247.90,213.33h5.69v5.69h-5.69zM264.07,213.33h32.64v5.69h-32.64zM328.75,213.33h5.69v5.69h-5.69zM355.70,213.33h5.69v5.69h-5.69zM371.87,213.33h32.64v5.69h-32.64zM414.99,213.33h27.25v5.69h-27.25zM565.91,213.33h11.08v5.69h-11.08zM231.73,218.72h5.69v5.69h-5.69zM274.85,218.72h43.42v5.69h-43.42zM323.36,218.72h5.69v5.69h-5.69zM382.65,218.72h16.47v5.69h-16.47zM404.21,218.72h5.69v5.69h-5.69zM425.77,218.72h5.69v5.69h-5.69zM565.91,218.72h5.69v5.69h-5.69zM242.51,224.11h5.69v5.69h-5.69zM274.85,224.11h54.20v5.69h-54.20zM393.43,224.11h5.69v5.69h-5.69zM404.21,224.11h27.25v5.69h-27.25zM242.51,229.50h5.69v5.69h-5.69zM253.29,229.50h5.69v5.69h-5.69zM269.46,229.50h54.20v5.69h-54.20zM334.14,229.50h11.08v5.69h-11.08zM388.04,229.50h43.42v5.69h-43.42zM463.50,229.50h5.69v5.69h-5.69zM485.06,229.50h21.86v5.69h-21.86zM242.51,234.89h5.69v5.69h-5.69zM269.46,234.89h70.37v5.69h-70.37zM388.04,234.89h11.08v5.69h-11.08zM420.38,234.89h5.69v5.69h-5.69zM441.94,234.89h48.81v5.69h-48.81zM242.51,240.28h5.69v5.69h-5.69zM269.46,240.28h86.54v5.69h-86.54zM361.09,240.28h5.69v5.69h-5.69zM377.26,240.28h21.86v5.69h-21.86zM420.38,240.28h11.08v5.69h-11.08zM436.55,240.28h48.81v5.69h-48.81zM242.51,245.67h5.69v5.69h-5.69zM280.24,245.67h135.05v5.69h-135.05zM420.38,245.67h11.08v5.69h-11.08zM436.55,245.67h43.42v5.69h-43.42zM237.12,251.06h11.08v5.69h-11.08zM280.24,251.06h16.47v5.69h-16.47zM301.80,251.06h48.81v5.69h-48.81zM382.65,251.06h38.03v5.69h-38.03zM425.77,251.06h5.69v5.69h-5.69zM436.55,251.06h27.25v5.69h-27.25zM474.28,251.06h5.69v5.69h-5.69zM237.12,256.45h5.69v5.69h-5.69zM312.58,256.45h11.08v5.69h-11.08zM334.14,256.45h21.86v5.69h-21.86zM371.87,256.45h48.81v5.69h-48.81zM431.16,256.45h27.25v5.69h-27.25zM237.12,261.84h5.69v5.69h-5.69zM312.58,261.84h21.86v5.69h-21.86zM350.31,261.84h5.69v5.69h-5.69zM382.65,261.84h38.03v5.69h-38.03zM425.77,261.84h32.64v5.69h-32.64zM312.58,267.23h38.03v5.69h-38.03zM388.04,267.23h59.59v5.69h-59.59zM452.72,267.23h5.69v5.69h-5.69zM301.80,272.62h54.20v5.69h-54.20zM377.26,272.62h54.20v5.69h-54.20zM436.55,272.62h5.69v5.69h-5.69zM447.33,272.62h5.69v5.69h-5.69zM296.41,278.01h11.08v5.69h-11.08zM312.58,278.01h38.03v5.69h-38.03zM377.26,278.01h70.37v5.69h-70.37zM285.63,283.40h5.69v5.69h-5.69zM312.58,283.40h43.42v5.69h-43.42zM366.48,283.40h27.25v5.69h-27.25zM398.82,283.40h5.69v5.69h-5.69zM414.99,283.40h11.08v5.69h-11.08zM431.16,283.40h21.86v5.69h-21.86zM231.73,288.79h5.69v5.69h-5.69zM285.63,288.79h11.08v5.69h-11.08zM301.80,288.79h54.20v5.69h-54.20zM366.48,288.79h16.47v5.69h-16.47zM388.04,288.79h5.69v5.69h-5.69zM414.99,288.79h5.69v5.69h-5.69zM431.16,288.79h16.47v5.69h-16.47zM619.81,288.79h11.08v5.69h-11.08zM269.46,294.18h5.69v5.69h-5.69zM285.63,294.18h11.08v5.69h-11.08zM301.80,294.18h43.42v5.69h-43.42zM350.31,294.18h11.08v5.69h-11.08zM371.87,294.18h5.69v5.69h-5.69zM388.04,294.18h16.47v5.69h-16.47zM409.60,294.18h32.64v5.69h-32.64zM625.20,294.18h11.08v5.69h-11.08zM269.46,299.57h11.08v5.69h-11.08zM301.80,299.57h27.25v5.69h-27.25zM350.31,299.57h16.47v5.69h-16.47zM371.87,299.57h11.08v5.69h-11.08zM388.04,299.57h48.81v5.69h-48.81zM619.81,299.57h11.08v5.69h-11.08zM269.46,304.96h11.08v5.69h-11.08zM301.80,304.96h5.69v5.69h-5.69zM312.58,304.96h11.08v5.69h-11.08zM328.75,304.96h11.08v5.69h-11.08zM350.31,304.96h75.76v5.69h-75.76zM264.07,310.35h5.69v5.69h-5.69zM317.97,310.35h5.69v5.69h-5.69zM328.75,310.35h16.47v5.69h-16.47zM355.70,310.35h70.37v5.69h-70.37zM247.90,315.74h5.69v5.69h-5.69zM258.68,315.74h27.25v5.69h-27.25zM291.02,315.74h5.69v5.69h-5.69zM301.80,315.74h5.69v5.69h-5.69zM344.92,315.74h11.08v5.69h-11.08zM388.04,315.74h43.42v5.69h-43.42zM280.24,321.13h5.69v5.69h-5.69zM291.02,321.13h16.47v5.69h-16.47zM344.92,321.13h11.08v5.69h-11.08zM361.09,321.13h5.69v5.69h-5.69zM388.04,321.13h5.69v5.69h-5.69zM398.82,321.13h16.47v5.69h-16.47zM517.40,321.13h5.69v5.69h-5.69zM350.31,326.52h16.47v5.69h-16.47zM388.04,326.52h11.08v5.69h-11.08zM404.21,326.52h5.69v5.69h-5.69zM414.99,326.52h5.69v5.69h-5.69zM350.31,331.91h21.86v5.69h-21.86zM388.04,331.91h21.86v5.69h-21.86zM414.99,331.91h5.69v5.69h-5.69zM382.65,337.30h32.64v5.69h-32.64zM490.45,337.30h5.69v5.69h-5.69zM544.35,337.30h16.47v5.69h-16.47zM366.48,342.69h11.08v5.69h-11.08zM382.65,342.69h32.64v5.69h-32.64zM490.45,342.69h5.69v5.69h-5.69zM366.48,348.08h54.20v5.69h-54.20zM452.72,348.08h5.69v5.69h-5.69zM463.50,348.08h21.86v5.69h-21.86zM490.45,348.08h16.47v5.69h-16.47zM388.04,353.47h43.42v5.69h-43.42zM463.50,353.47h16.47v5.69h-16.47zM495.84,353.47h16.47v5.69h-16.47zM560.52,353.47h5.69v5.69h-5.69zM388.04,358.86h32.64v5.69h-32.64zM468.89,358.86h11.08v5.69h-11.08zM512.01,358.86h5.69v5.69h-5.69zM528.18,358.86h11.08v5.69h-11.08zM560.52,358.86h5.69v5.69h-5.69zM382.65,364.25h5.69v5.69h-5.69zM393.43,364.25h21.86v5.69h-21.86zM420.38,364.25h5.69v5.69h-5.69zM506.62,364.25h11.08v5.69h-11.08zM528.18,364.25h16.47v5.69h-16.47zM393.43,369.64h16.47v5.69h-16.47zM506.62,369.64h11.08v5.69h-11.08zM528.18,369.64h21.86v5.69h-21.86zM404.21,375.03h5.69v5.69h-5.69zM501.23,375.03h5.69v5.69h-5.69zM512.01,375.03h38.03v5.69h-38.03zM506.62,380.42h43.42v5.69h-43.42zM495.84,385.81h38.03v5.69h-38.03zM538.96,385.81h11.08v5.69h-11.08zM501.23,391.20h48.81v5.69h-48.81zM490.45,396.59h21.86v5.69h-21.86zM522.79,396.59h21.86v5.69h-21.86zM490.45,401.98h21.86v5.69h-21.86zM528.18,401.98h11.08v5.69h-11.08zM485.06,407.37h27.25v5.69h-27.25zM517.40,407.37h11.08v5.69h-11.08zM533.57,407.37h5.69v5.69h-5.69zM490.45,412.76h27.25v5.69h-27.25zM490.45,418.15h27.25v5.69h-27.25zM522.79,418.15h5.69v5.69h-5.69zM490.45,423.54h5.69v5.69h-5.69zM501.23,423.54h16.47v5.69h-16.47zM522.79,423.54h11.08v5.69h-11.08zM501.23,428.93h21.86v5.69h-21.86zM501.23,434.32h11.08v5.69h-11.08zM495.84,439.71h21.86v5.69h-21.86zM549.74,439.71h5.69v5.69h-5.69zM560.52,439.71h5.69v5.69h-5.69zM274.85,445.10h5.69v5.69h-5.69zM506.62,445.10h5.69v5.69h-5.69zM215.56,450.49h32.64v5.69h-32.64zM264.07,450.49h16.47v5.69h-16.47zM501.23,450.49h5.69v5.69h-5.69zM215.56,455.88h38.03v5.69h-38.03zM264.07,455.88h16.47v5.69h-16.47zM501.23,455.88h11.08v5.69h-11.08zM641.37,455.88h5.69v5.69h-5.69zM215.56,461.27h64.98v5.69h-64.98zM495.84,461.27h16.47v5.69h-16.47zM635.98,461.27h5.69v5.69h-5.69zM646.76,461.27h16.47v5.69h-16.47zM215.56,466.66h59.59v5.69h-59.59zM495.84,466.66h21.86v5.69h-21.86zM635.98,466.66h16.47v5.69h-16.47zM657.54,466.66h11.08v5.69h-11.08zM226.34,472.05h5.69v5.69h-5.69zM242.51,472.05h5.69v5.69h-5.69zM253.29,472.05h21.86v5.69h-21.86zM512.01,472.05h16.47v5.69h-16.47zM646.76,472.05h11.08v5.69h-11.08zM258.68,477.44h27.25v5.69h-27.25zM485.06,477.44h11.08v5.69h-11.08zM517.40,477.44h11.08v5.69h-11.08zM253.29,482.83h5.69v5.69h-5.69zM264.07,482.83h16.47v5.69h-16.47zM485.06,482.83h5.69v5.69h-5.69zM512.01,482.83h16.47v5.69h-16.47zM269.46,488.22h11.08v5.69h-11.08zM479.67,488.22h16.47v5.69h-16.47zM506.62,488.22h5.69v5.69h-5.69zM517.40,488.22h16.47v5.69h-16.47zM274.85,493.61h5.69v5.69h-5.69zM485.06,493.61h21.86v5.69h-21.86zM210.17,499.00h16.47v5.69h-16.47zM269.46,499.00h11.08v5.69h-11.08zM431.16,499.00h16.47v5.69h-16.47zM458.11,499.00h21.86v5.69h-21.86zM485.06,499.00h21.86v5.69h-21.86zM522.79,499.00h27.25v5.69h-27.25zM215.56,504.39h11.08v5.69h-11.08zM285.63,504.39h11.08v5.69h-11.08zM431.16,504.39h21.86v5.69h-21.86zM458.11,504.39h21.86v5.69h-21.86zM495.84,504.39h43.42v5.69h-43.42zM210.17,509.78h5.69v5.69h-5.69zM280.24,509.78h5.69v5.69h-5.69zM468.89,509.78h11.08v5.69h-11.08zM517.40,509.78h5.69v5.69h-5.69zM468.89,515.17h11.08v5.69h-11.08zM253.29,520.56h11.08v5.69h-11.08zM253.29,525.95h11.08v5.69h-11.08zM285.63,525.95h16.47v5.69h-16.47zM560.52,525.95h16.47v5.69h-16.47zM247.90,531.34h5.69v5.69h-5.69zM258.68,531.34h5.69v5.69h-5.69zM274.85,531.34h21.86v5.69h-21.86zM549.74,531.34h5.69v5.69h-5.69zM560.52,531.34h16.47v5.69h-16.47zM280.24,536.73h16.47v5.69h-16.47zM528.18,536.73h27.25v5.69h-27.25zM560.52,536.73h5.69v5.69h-5.69zM646.76,536.73h16.47v5.69h-16.47zM285.63,542.12h16.47v5.69h-16.47zM565.91,542.12h5.69v5.69h-5.69zM280.24,547.51h43.42v5.69h-43.42zM533.57,547.51h5.69v5.69h-5.69zM598.25,547.51h43.42v5.69h-43.42zM274.85,552.90h54.20v5.69h-54.20zM522.79,552.90h21.86v5.69h-21.86zM549.74,552.90h5.69v5.69h-5.69zM576.69,552.90h64.98v5.69h-64.98zM274.85,558.29h54.20v5.69h-54.20zM404.21,558.29h27.25v5.69h-27.25zM512.01,558.29h48.81v5.69h-48.81zM576.69,558.29h64.98v5.69h-64.98zM264.07,563.68h48.81v5.69h-48.81zM317.97,563.68h5.69v5.69h-5.69zM404.21,563.68h11.08v5.69h-11.08zM425.77,563.68h32.64v5.69h-32.64zM512.01,563.68h48.81v5.69h-48.81zM587.47,563.68h54.20v5.69h-54.20zM269.46,569.07h43.42v5.69h-43.42zM404.21,569.07h11.08v5.69h-11.08zM420.38,569.07h38.03v5.69h-38.03zM490.45,569.07h5.69v5.69h-5.69zM506.62,569.07h11.08v5.69h-11.08zM522.79,569.07h16.47v5.69h-16.47zM544.35,569.07h11.08v5.69h-11.08zM571.30,569.07h70.37v5.69h-70.37zM269.46,574.46h5.69v5.69h-5.69zM285.63,574.46h11.08v5.69h-11.08zM398.82,574.46h21.86v5.69h-21.86zM441.94,574.46h16.47v5.69h-16.47zM468.89,574.46h11.08v5.69h-11.08zM490.45,574.46h5.69v5.69h-5.69zM506.62,574.46h5.69v5.69h-5.69zM522.79,574.46h5.69v5.69h-5.69zM576.69,574.46h11.08v5.69h-11.08zM274.85,579.85h5.69v5.69h-5.69zM382.65,579.85h5.69v5.69h-5.69zM398.82,579.85h21.86v5.69h-21.86zM436.55,579.85h21.86v5.69h-21.86zM468.89,579.85h11.08v5.69h-11.08zM495.84,579.85h5.69v5.69h-5.69zM253.29,585.24h21.86v5.69h-21.86zM280.24,585.24h11.08v5.69h-11.08zM344.92,585.24h27.25v5.69h-27.25zM377.26,585.24h48.81v5.69h-48.81zM441.94,585.24h11.08v5.69h-11.08zM468.89,585.24h27.25v5.69h-27.25zM253.29,590.63h32.64v5.69h-32.64zM301.80,590.63h5.69v5.69h-5.69zM344.92,590.63h16.47v5.69h-16.47zM371.87,590.63h11.08v5.69h-11.08zM388.04,590.63h27.25v5.69h-27.25zM431.16,590.63h16.47v5.69h-16.47zM479.67,590.63h5.69v5.69h-5.69zM258.68,596.02h54.20v5.69h-54.20zM404.21,596.02h5.69v5.69h-5.69zM431.16,596.02h5.69v5.69h-5.69zM258.68,601.41h5.69v5.69h-5.69zM285.63,601.41h32.64v5.69h-32.64zM700.66,612.19h11.08v5.69h-11.08zM689.88,617.58h11.08v5.69h-11.08zM695.27,622.97h5.69v5.69h-5.69zM614.42,628.36h27.25v5.69h-27.25zM652.15,628.36h21.86v5.69h-21.86zM679.10,628.36h5.69v5.69h-5.69zM695.27,628.36h5.69v5.69h-5.69zM668.32,633.75h5.69v5.69h-5.69zM355.70,644.53h21.86v5.69h-21.86zM361.09,649.92h11.08v5.69h-11.08zM576.69,649.92h5.69v5.69h-5.69zM587.47,649.92h5.69v5.69h-5.69zM371.87,655.31h11.08v5.69h-11.08zM431.16,655.31h21.86v5.69h-21.86zM576.69,655.31h5.69v5.69h-5.69zM371.87,660.70h5.69v5.69h-5.69zM382.65,660.70h5.69v5.69h-5.69zM436.55,660.70h5.69v5.69h-5.69zM377.26,666.09h11.08v5.69h-11.08zM441.94,666.09h11.08v5.69h-11.08zM506.62,666.09h27.25v5.69h-27.25zM538.96,666.09h5.69v5.69h-5.69zM549.74,666.09h5.69v5.69h-5.69zM382.65,671.48h11.08v5.69h-11.08zM447.33,671.48h11.08v5.69h-11.08zM501.23,671.48h11.08v5.69h-11.08zM517.40,671.48h11.08v5.69h-11.08zM533.57,671.48h11.08v5.69h-11.08zM549.74,671.48h5.69v5.69h-5.69zM517.40,676.87h5.69v5.69h-5.69zM533.57,676.87h11.08v5.69h-11.08zM522.79,687.65h16.47v5.69h-16.47zM533.57,693.04h5.69v5.69h-5.69zM463.50,698.43h11.08v5.69h-11.08zM533.57,698.43h5.69v5.69h-5.69zM684.49,698.43h5.69v5.69h-5.69zM679.10,703.82h16.47v5.69h-16.47zM679.10,709.21h11.08v5.69h-11.08zM679.10,714.60h11.08v5.69h-11.08zM679.10,719.99h16.47v5.69h-16.47zM673.71,725.38h5.69v5.69h-5.69zM684.49,725.38h11.08v5.69h-11.08zM592.86,730.77h5.69v5.69h-5.69zM689.88,730.77h5.69v5.69h-5.69zM592.86,736.16h21.86v5.69h-21.86zM619.81,736.16h5.69v5.69h-5.69zM582.08,741.55h5.69v5.69h-5.69zM609.03,741.55h21.86v5.69h-21.86zM587.47,746.94h5.69v5.69h-5.69zM609.03,746.94h5.69v5.69h-5.69zM619.81,746.94h5.69v5.69h-5.69zM565.91,752.33h5.69v5.69h-5.69zM619.81,752.33h5.69v5.69h-5.69zM673.71,752.33h21.86v5.69h-21.86zM560.52,757.72h5.69v5.69h-5.69zM538.96,763.11h11.08v5.69h-11.08zM533.57,768.50h16.47v5.69h-16.47zM555.13,768.50h5.69v5.69h-5.69zM538.96,773.89h5.69v5.69h-5.69zM533.57,779.28h11.08v5.69h-11.08zM528.18,784.67h16.47v5.69h-16.47zM533.57,790.06h11.08v5.69h-11.08zM533.57,795.45h11.08v5.69h-11.08zM668.32,800.84h5.69v5.69h-5.69zM684.49,800.84h11.08v5.69h-11.08zM684.49,806.23h5.69v5.69h-5.69z"/>
<path fill="#e0e0e0" d="M242.51,207.94h5.69v5.69h-5.69zM237.12,213.33h11.08v5.69h-11.08zM253.29,213.33h11.08v5.69h-11.08zM404.21,213.33h11.08v5.69h-11.08zM468.89,213.33h43.42v5.69h-43.42zM237.12,218.72h38.03v5.69h-38.03zM409.60,218.72h16.47v5.69h-16.47zM468.89,218.72h38.03v5.69h-38.03zM247.90,224.11h27.25v5.69h-27.25zM468.89,224.11h32.64v5.69h-32.64zM258.68,229.50h11.08v5.69h-11.08zM468.89,229.50h16.47v5.69h-16.47zM247.90,234.89h5.69v5.69h-5.69zM398.82,234.89h21.86v5.69h-21.86zM247.90,240.28h5.69v5.69h-5.69zM258.68,240.28h11.08v5.69h-11.08zM398.82,240.28h21.86v5.69h-21.86zM431.16,240.28h5.69v5.69h-5.69zM247.90,245.67h32.64v5.69h-32.64zM414.99,245.67h5.69v5.69h-5.69zM431.16,245.67h5.69v5.69h-5.69zM247.90,251.06h21.86v5.69h-21.86zM274.85,251.06h5.69v5.69h-5.69zM296.41,251.06h5.69v5.69h-5.69zM420.38,251.06h5.69v5.69h-5.69zM431.16,251.06h5.69v5.69h-5.69zM247.90,256.45h11.08v5.69h-11.08zM264.07,256.45h5.69v5.69h-5.69zM274.85,256.45h5.69v5.69h-5.69zM296.41,256.45h16.47v5.69h-16.47zM420.38,256.45h11.08v5.69h-11.08zM258.68,261.84h5.69v5.69h-5.69zM291.02,261.84h21.86v5.69h-21.86zM420.38,261.84h5.69v5.69h-5.69zM253.29,267.23h5.69v5.69h-5.69zM296.41,267.23h16.47v5.69h-16.47zM247.90,272.62h5.69v5.69h-5.69zM269.46,272.62h5.69v5.69h-5.69zM280.24,272.62h5.69v5.69h-5.69zM291.02,272.62h11.08v5.69h-11.08zM247.90,278.01h48.81v5.69h-48.81zM307.19,278.01h5.69v5.69h-5.69zM247.90,283.40h38.03v5.69h-38.03zM291.02,283.40h21.86v5.69h-21.86zM258.68,288.79h27.25v5.69h-27.25zM296.41,288.79h5.69v5.69h-5.69zM253.29,294.18h16.47v5.69h-16.47zM274.85,294.18h11.08v5.69h-11.08zM296.41,294.18h5.69v5.69h-5.69zM344.92,294.18h5.69v5.69h-5.69zM361.09,294.18h11.08v5.69h-11.08zM253.29,299.57h16.47v5.69h-16.47zM280.24,299.57h21.86v5.69h-21.86zM328.75,299.57h21.86v5.69h-21.86zM366.48,299.57h5.69v5.69h-5.69zM231.73,304.96h5.69v5.69h-5.69zM247.90,304.96h21.86v5.69h-21.86zM280.24,304.96h21.86v5.69h-21.86zM307.19,304.96h5.69v5.69h-5.69zM323.36,304.96h5.69v5.69h-5.69zM339.53,304.96h11.08v5.69h-11.08zM231.73,310.35h5.69v5.69h-5.69zM242.51,310.35h21.86v5.69h-21.86zM269.46,310.35h48.81v5.69h-48.81zM323.36,310.35h5.69v5.69h-5.69zM344.92,310.35h11.08v5.69h-11.08zM242.51,315.74h5.69v5.69h-5.69zM253.29,315.74h5.69v5.69h-5.69zM285.63,315.74h5.69v5.69h-5.69zM296.41,315.74h5.69v5.69h-5.69zM307.19,315.74h38.03v5.69h-38.03zM355.70,315.74h32.64v5.69h-32.64zM285.63,321.13h5.69v5.69h-5.69zM323.36,321.13h21.86v5.69h-21.86zM355.70,321.13h5.69v5.69h-5.69zM366.48,321.13h21.86v5.69h-21.86zM323.36,326.52h27.25v5.69h-27.25zM366.48,326.52h21.86v5.69h-21.86zM242.51,331.91h5.69v5.69h-5.69zM274.85,331.91h5.69v5.69h-5.69zM328.75,331.91h21.86v5.69h-21.86zM371.87,331.91h16.47v5.69h-16.47zM237.12,337.30h5.69v5.69h-5.69zM258.68,337.30h5.69v5.69h-5.69zM274.85,337.30h5.69v5.69h-5.69zM334.14,337.30h48.81v5.69h-48.81zM339.53,342.69h27.25v5.69h-27.25zM377.26,342.69h5.69v5.69h-5.69zM339.53,348.08h27.25v5.69h-27.25zM485.06,348.08h5.69v5.69h-5.69zM355.70,353.47h32.64v5.69h-32.64zM458.11,353.47h5.69v5.69h-5.69zM479.67,353.47h16.47v5.69h-16.47zM512.01,353.47h16.47v5.69h-16.47zM361.09,358.86h27.25v5.69h-27.25zM420.38,358.86h11.08v5.69h-11.08zM458.11,358.86h5.69v5.69h-5.69zM479.67,358.86h32.64v5.69h-32.64zM517.40,358.86h11.08v5.69h-11.08zM377.26,364.25h5.69v5.69h-5.69zM414.99,364.25h5.69v5.69h-5.69zM425.77,364.25h5.69v5.69h-5.69zM458.11,364.25h11.08v5.69h-11.08zM495.84,364.25h11.08v5.69h-11.08zM517.40,364.25h11.08v5.69h-11.08zM409.60,369.64h21.86v5.69h-21.86zM463.50,369.64h5.69v5.69h-5.69zM490.45,369.64h5.69v5.69h-5.69zM501.23,369.64h5.69v5.69h-5.69zM517.40,369.64h11.08v5.69h-11.08zM398.82,375.03h5.69v5.69h-5.69zM409.60,375.03h5.69v5.69h-5.69zM420.38,375.03h5.69v5.69h-5.69zM495.84,375.03h5.69v5.69h-5.69zM506.62,375.03h5.69v5.69h-5.69zM398.82,380.42h5.69v5.69h-5.69zM501.23,380.42h5.69v5.69h-5.69zM533.57,385.81h5.69v5.69h-5.69zM479.67,391.20h11.08v5.69h-11.08zM479.67,396.59h11.08v5.69h-11.08zM512.01,396.59h11.08v5.69h-11.08zM485.06,401.98h5.69v5.69h-5.69zM512.01,401.98h16.47v5.69h-16.47zM512.01,407.37h5.69v5.69h-5.69zM485.06,418.15h5.69v5.69h-5.69zM226.34,423.54h5.69v5.69h-5.69zM242.51,423.54h5.69v5.69h-5.69zM414.99,423.54h11.08v5.69h-11.08zM468.89,423.54h21.86v5.69h-21.86zM495.84,423.54h5.69v5.69h-5.69zM215.56,428.93h16.47v5.69h-16.47zM237.12,428.93h5.69v5.69h-5.69zM247.90,428.93h11.08v5.69h-11.08zM264.07,428.93h5.69v5.69h-5.69zM274.85,428.93h11.08v5.69h-11.08zM414.99,428.93h11.08v5.69h-11.08zM458.11,428.93h43.42v5.69h-43.42zM226.34,434.32h11.08v5.69h-11.08zM247.90,434.32h48.81v5.69h-48.81zM414.99,434.32h5.69v5.69h-5.69zM468.89,434.32h32.64v5.69h-32.64zM226.34,439.71h11.08v5.69h-11.08zM253.29,439.71h43.42v5.69h-43.42zM474.28,439.71h21.86v5.69h-21.86zM253.29,445.10h16.47v5.69h-16.47zM280.24,445.10h21.86v5.69h-21.86zM339.53,445.10h5.69v5.69h-5.69zM474.28,445.10h32.64v5.69h-32.64zM247.90,450.49h16.47v5.69h-16.47zM280.24,450.49h11.08v5.69h-11.08zM307.19,450.49h5.69v5.69h-5.69zM323.36,450.49h5.69v5.69h-5.69zM485.06,450.49h16.47v5.69h-16.47zM253.29,455.88h11.08v5.69h-11.08zM280.24,455.88h16.47v5.69h-16.47zM307.19,455.88h27.25v5.69h-27.25zM344.92,455.88h38.03v5.69h-38.03zM479.67,455.88h16.47v5.69h-16.47zM280.24,461.27h21.86v5.69h-21.86zM307.19,461.27h27.25v5.69h-27.25zM355.70,461.27h27.25v5.69h-27.25zM393.43,461.27h11.08v5.69h-11.08zM485.06,461.27h11.08v5.69h-11.08zM274.85,466.66h27.25v5.69h-27.25zM307.19,466.66h27.25v5.69h-27.25zM355.70,466.66h27.25v5.69h-27.25zM458.11,466.66h5.69v5.69h-5.69zM468.89,466.66h21.86v5.69h-21.86zM652.15,466.66h5.69v5.69h-5.69zM274.85,472.05h32.64v5.69h-32.64zM312.58,472.05h21.86v5.69h-21.86zM361.09,472.05h16.47v5.69h-16.47zM393.43,472.05h5.69v5.69h-5.69zM458.11,472.05h54.20v5.69h-54.20zM635.98,472.05h11.08v5.69h-11.08zM285.63,477.44h21.86v5.69h-21.86zM361.09,477.44h21.86v5.69h-21.86zM388.04,477.44h11.08v5.69h-11.08zM447.33,477.44h38.03v5.69h-38.03zM495.84,477.44h21.86v5.69h-21.86zM614.42,477.44h5.69v5.69h-5.69zM625.20,477.44h5.69v5.69h-5.69zM641.37,477.44h5.69v5.69h-5.69zM657.54,477.44h5.69v5.69h-5.69zM280.24,482.83h32.64v5.69h-32.64zM317.97,482.83h16.47v5.69h-16.47zM361.09,482.83h5.69v5.69h-5.69zM388.04,482.83h11.08v5.69h-11.08zM436.55,482.83h5.69v5.69h-5.69zM447.33,482.83h27.25v5.69h-27.25zM490.45,482.83h21.86v5.69h-21.86zM614.42,482.83h5.69v5.69h-5.69zM630.59,482.83h5.69v5.69h-5.69zM280.24,488.22h54.20v5.69h-54.20zM344.92,488.22h11.08v5.69h-11.08zM388.04,488.22h5.69v5.69h-5.69zM425.77,488.22h38.03v5.69h-38.03zM468.89,488.22h5.69v5.69h-5.69zM495.84,488.22h11.08v5.69h-11.08zM291.02,493.61h64.98v5.69h-64.98zM452.72,493.61h5.69v5.69h-5.69zM479.67,493.61h5.69v5.69h-5.69zM560.52,493.61h38.03v5.69h-38.03zM285.63,499.00h38.03v5.69h-38.03zM334.14,499.00h5.69v5.69h-5.69zM398.82,499.00h27.25v5.69h-27.25zM447.33,499.00h11.08v5.69h-11.08zM479.67,499.00h5.69v5.69h-5.69zM560.52,499.00h11.08v5.69h-11.08zM280.24,504.39h5.69v5.69h-5.69zM301.80,504.39h11.08v5.69h-11.08zM404.21,504.39h16.47v5.69h-16.47zM452.72,504.39h5.69v5.69h-5.69zM479.67,504.39h16.47v5.69h-16.47zM269.46,509.78h11.08v5.69h-11.08zM285.63,509.78h5.69v5.69h-5.69zM452.72,509.78h16.47v5.69h-16.47zM479.67,509.78h11.08v5.69h-11.08zM495.84,509.78h5.69v5.69h-5.69zM592.86,509.78h5.69v5.69h-5.69zM269.46,515.17h27.25v5.69h-27.25zM301.80,515.17h5.69v5.69h-5.69zM458.11,515.17h5.69v5.69h-5.69zM485.06,515.17h5.69v5.69h-5.69zM587.47,515.17h11.08v5.69h-11.08zM269.46,520.56h38.03v5.69h-38.03zM350.31,520.56h5.69v5.69h-5.69zM576.69,520.56h5.69v5.69h-5.69zM587.47,520.56h11.08v5.69h-11.08zM274.85,525.95h11.08v5.69h-11.08zM301.80,525.95h5.69v5.69h-5.69zM350.31,525.95h11.08v5.69h-11.08zM555.13,525.95h5.69v5.69h-5.69zM576.69,525.95h27.25v5.69h-27.25zM296.41,531.34h11.08v5.69h-11.08zM334.14,531.34h27.25v5.69h-27.25zM528.18,531.34h5.69v5.69h-5.69zM538.96,531.34h11.08v5.69h-11.08zM555.13,531.34h5.69v5.69h-5.69zM576.69,531.34h27.25v5.69h-27.25zM619.81,531.34h11.08v5.69h-11.08zM635.98,531.34h16.47v5.69h-16.47zM657.54,531.34h11.08v5.69h-11.08zM296.41,536.73h5.69v5.69h-5.69zM334.14,536.73h16.47v5.69h-16.47zM517.40,536.73h11.08v5.69h-11.08zM555.13,536.73h5.69v5.69h-5.69zM565.91,536.73h32.64v5.69h-32.64zM635.98,536.73h11.08v5.69h-11.08zM662.93,536.73h5.69v5.69h-5.69zM301.80,542.12h5.69v5.69h-5.69zM344.92,542.12h5.69v5.69h-5.69zM512.01,542.12h5.69v5.69h-5.69zM544.35,542.12h21.86v5.69h-21.86zM571.30,542.12h21.86v5.69h-21.86zM614.42,542.12h27.25v5.69h-27.25zM495.84,547.51h21.86v5.69h-21.86zM522.79,547.51h11.08v5.69h-11.08zM538.96,547.51h27.25v5.69h-27.25zM576.69,547.51h21.86v5.69h-21.86zM490.45,552.90h32.64v5.69h-32.64zM544.35,552.90h5.69v5.69h-5.69zM555.13,552.90h16.47v5.69h-16.47zM501.23,558.29h11.08v5.69h-11.08zM560.52,558.29h16.47v5.69h-16.47zM388.04,563.68h5.69v5.69h-5.69zM414.99,563.68h11.08v5.69h-11.08zM485.06,563.68h5.69v5.69h-5.69zM495.84,563.68h16.47v5.69h-16.47zM560.52,563.68h21.86v5.69h-21.86zM382.65,569.07h11.08v5.69h-11.08zM414.99,569.07h5.69v5.69h-5.69zM474.28,569.07h16.47v5.69h-16.47zM495.84,569.07h11.08v5.69h-11.08zM517.40,569.07h5.69v5.69h-5.69zM538.96,569.07h5.69v5.69h-5.69zM555.13,569.07h16.47v5.69h-16.47zM366.48,574.46h27.25v5.69h-27.25zM420.38,574.46h5.69v5.69h-5.69zM431.16,574.46h11.08v5.69h-11.08zM479.67,574.46h5.69v5.69h-5.69zM495.84,574.46h5.69v5.69h-5.69zM512.01,574.46h11.08v5.69h-11.08zM528.18,574.46h21.86v5.69h-21.86zM555.13,574.46h5.69v5.69h-5.69zM565.91,574.46h11.08v5.69h-11.08zM361.09,579.85h21.86v5.69h-21.86zM388.04,579.85h11.08v5.69h-11.08zM420.38,579.85h16.47v5.69h-16.47zM501.23,579.85h5.69v5.69h-5.69zM512.01,579.85h21.86v5.69h-21.86zM565.91,579.85h5.69v5.69h-5.69zM576.69,579.85h5.69v5.69h-5.69zM291.02,585.24h32.64v5.69h-32.64zM431.16,585.24h11.08v5.69h-11.08zM495.84,585.24h11.08v5.69h-11.08zM285.63,590.63h16.47v5.69h-16.47zM307.19,590.63h21.86v5.69h-21.86zM312.58,596.02h16.47v5.69h-16.47zM431.16,601.41h5.69v5.69h-5.69zM425.77,606.80h11.08v5.69h-11.08zM662.93,612.19h5.69v5.69h-5.69zM404.21,617.58h16.47v5.69h-16.47zM657.54,617.58h32.64v5.69h-32.64zM662.93,622.97h27.25v5.69h-27.25zM382.65,628.36h5.69v5.69h-5.69zM673.71,628.36h5.69v5.69h-5.69zM377.26,633.75h5.69v5.69h-5.69zM377.26,644.53h5.69v5.69h-5.69zM371.87,649.92h11.08v5.69h-11.08zM528.18,649.92h5.69v5.69h-5.69zM560.52,649.92h11.08v5.69h-11.08zM388.04,660.70h11.08v5.69h-11.08zM388.04,666.09h11.08v5.69h-11.08zM436.55,666.09h5.69v5.69h-5.69zM490.45,666.09h16.47v5.69h-16.47zM544.35,666.09h5.69v5.69h-5.69zM436.55,671.48h11.08v5.69h-11.08zM544.35,671.48h5.69v5.69h-5.69zM544.35,676.87h11.08v5.69h-11.08zM479.67,682.26h5.69v5.69h-5.69zM479.67,687.65h5.69v5.69h-5.69zM592.86,741.55h16.47v5.69h-16.47zM582.08,746.94h5.69v5.69h-5.69zM592.86,746.94h16.47v5.69h-16.47zM614.42,746.94h5.69v5.69h-5.69zM582.08,752.33h38.03v5.69h-38.03zM582.08,757.72h27.25v5.69h-27.25zM614.42,757.72h11.08v5.69h-11.08zM555.13,763.11h5.69v5.69h-5.69zM565.91,763.11h5.69v5.69h-5.69zM598.25,763.11h5.69v5.69h-5.69zM635.98,768.50h5.69v5.69h-5.69zM646.76,768.50h5.69v5.69h-5.69zM603.64,773.89h5.69v5.69h-5.69zM641.37,773.89h5.69v5.69h-5.69zM544.35,779.28h11.08v5.69h-11.08zM603.64,779.28h5.69v5.69h-5.69zM544.35,784.67h16.47v5.69h-16.47zM571.30,784.67h11.08v5.69h-11.08zM603.64,784.67h16.47v5.69h-16.47zM576.69,790.06h5.69v5.69h-5.69zM609.03,790.06h5.69v5.69h-5.69zM679.10,790.06h5.69v5.69h-5.69zM689.88,790.06h5.69v5.69h-5.69zM652.15,795.45h11.08v5.69h-11.08zM668.32,795.45h32.64v5.69h-32.64zM533.57,800.84h11.08v5.69h-11.08zM652.15,800.84h16.47v5.69h-16.47zM673.71,800.84h5.69v5.69h-5.69zM533.57,806.23h11.08v5.69h-11.08z"/>
<path fill="#7df068" d="M441.94,213.33h27.25v5.69h-27.25zM441.94,218.72h27.25v5.69h-27.25zM441.94,224.11h21.86v5.69h-21.86zM247.90,229.50h5.69v5.69h-5.69zM431.16,229.50h5.69v5.69h-5.69zM441.94,229.50h16.47v5.69h-16.47zM253.29,234.89h16.47v5.69h-16.47zM425.77,234.89h11.08v5.69h-11.08zM253.29,240.28h5.69v5.69h-5.69zM269.46,251.06h5.69v5.69h-5.69zM258.68,256.45h5.69v5.69h-5.69zM269.46,256.45h5.69v5.69h-5.69zM280.24,256.45h16.47v5.69h-16.47zM242.51,261.84h16.47v5.69h-16.47zM264.07,261.84h27.25v5.69h-27.25zM237.12,267.23h16.47v5.69h-16.47zM258.68,267.23h38.03v5.69h-38.03zM237.12,272.62h11.08v5.69h-11.08zM253.29,272.62h16.47v5.69h-16.47zM274.85,272.62h5.69v5.69h-5.69zM285.63,272.62h5.69v5.69h-5.69zM237.12,278.01h11.08v5.69h-11.08zM237.12,283.40h11.08v5.69h-11.08zM237.12,288.79h21.86v5.69h-21.86zM231.73,294.18h21.86v5.69h-21.86zM231.73,299.57h21.86v5.69h-21.86zM237.12,304.96h11.08v5.69h-11.08zM237.12,310.35h5.69v5.69h-5.69zM231.73,315.74h11.08v5.69h-11.08zM231.73,321.13h48.81v5.69h-48.81zM307.19,321.13h16.47v5.69h-16.47zM226.34,326.52h97.32v5.69h-97.32zM226.34,331.91h16.47v5.69h-16.47zM247.90,331.91h27.25v5.69h-27.25zM280.24,331.91h48.81v5.69h-48.81zM226.34,337.30h11.08v5.69h-11.08zM242.51,337.30h16.47v5.69h-16.47zM264.07,337.30h11.08v5.69h-11.08zM280.24,337.30h11.08v5.69h-11.08zM296.41,337.30h38.03v5.69h-38.03zM226.34,342.69h54.20v5.69h-54.20zM317.97,342.69h21.86v5.69h-21.86zM226.34,348.08h21.86v5.69h-21.86zM258.68,348.08h16.47v5.69h-16.47zM323.36,348.08h16.47v5.69h-16.47zM226.34,353.47h11.08v5.69h-11.08zM323.36,353.47h32.64v5.69h-32.64zM226.34,358.86h11.08v5.69h-11.08zM323.36,358.86h38.03v5.69h-38.03zM447.33,358.86h11.08v5.69h-11.08zM226.34,364.25h11.08v5.69h-11.08zM317.97,364.25h59.59v5.69h-59.59zM388.04,364.25h5.69v5.69h-5.69zM431.16,364.25h27.25v5.69h-27.25zM220.95,369.64h16.47v5.69h-16.47zM296.41,369.64h38.03v5.69h-38.03zM339.53,369.64h54.20v5.69h-54.20zM431.16,369.64h32.64v5.69h-32.64zM479.67,369.64h11.08v5.69h-11.08zM495.84,369.64h5.69v5.69h-5.69zM220.95,375.03h11.08v5.69h-11.08zM296.41,375.03h27.25v5.69h-27.25zM350.31,375.03h48.81v5.69h-48.81zM414.99,375.03h5.69v5.69h-5.69zM425.77,375.03h43.42v5.69h-43.42zM474.28,375.03h16.47v5.69h-16.47zM220.95,380.42h5.69v5.69h-5.69zM291.02,380.42h32.64v5.69h-32.64zM350.31,380.42h48.81v5.69h-48.81zM404.21,380.42h81.15v5.69h-81.15zM220.95,385.81h5.69v5.69h-5.69zM285.63,385.81h48.81v5.69h-48.81zM355.70,385.81h113.49v5.69h-113.49zM285.63,391.20h27.25v5.69h-27.25zM339.53,391.20h102.71v5.69h-102.71zM447.33,391.20h21.86v5.69h-21.86zM296.41,396.59h11.08v5.69h-11.08zM344.92,396.59h91.93v5.69h-91.93zM458.11,396.59h5.69v5.69h-5.69zM474.28,396.59h5.69v5.69h-5.69zM285.63,401.98h5.69v5.69h-5.69zM312.58,401.98h16.47v5.69h-16.47zM350.31,401.98h38.03v5.69h-38.03zM393.43,401.98h27.25v5.69h-27.25zM458.11,401.98h27.25v5.69h-27.25zM215.56,407.37h5.69v5.69h-5.69zM274.85,407.37h54.20v5.69h-54.20zM344.92,407.37h16.47v5.69h-16.47zM371.87,407.37h38.03v5.69h-38.03zM414.99,407.37h5.69v5.69h-5.69zM458.11,407.37h27.25v5.69h-27.25zM215.56,412.76h5.69v5.69h-5.69zM247.90,412.76h97.32v5.69h-97.32zM377.26,412.76h16.47v5.69h-16.47zM398.82,412.76h32.64v5.69h-32.64zM463.50,412.76h27.25v5.69h-27.25zM215.56,418.15h129.66v5.69h-129.66zM377.26,418.15h16.47v5.69h-16.47zM404.21,418.15h27.25v5.69h-27.25zM458.11,418.15h27.25v5.69h-27.25zM220.95,423.54h5.69v5.69h-5.69zM231.73,423.54h11.08v5.69h-11.08zM247.90,423.54h64.98v5.69h-64.98zM317.97,423.54h27.25v5.69h-27.25zM366.48,423.54h48.81v5.69h-48.81zM425.77,423.54h43.42v5.69h-43.42zM657.54,423.54h5.69v5.69h-5.69zM231.73,428.93h5.69v5.69h-5.69zM242.51,428.93h5.69v5.69h-5.69zM258.68,428.93h5.69v5.69h-5.69zM269.46,428.93h5.69v5.69h-5.69zM285.63,428.93h59.59v5.69h-59.59zM361.09,428.93h54.20v5.69h-54.20zM452.72,428.93h5.69v5.69h-5.69zM220.95,434.32h5.69v5.69h-5.69zM237.12,434.32h11.08v5.69h-11.08zM296.41,434.32h32.64v5.69h-32.64zM344.92,434.32h70.37v5.69h-70.37zM452.72,434.32h16.47v5.69h-16.47zM220.95,439.71h5.69v5.69h-5.69zM237.12,439.71h16.47v5.69h-16.47zM296.41,439.71h124.27v5.69h-124.27zM452.72,439.71h21.86v5.69h-21.86zM220.95,445.10h32.64v5.69h-32.64zM301.80,445.10h38.03v5.69h-38.03zM344.92,445.10h86.54v5.69h-86.54zM447.33,445.10h27.25v5.69h-27.25zM291.02,450.49h16.47v5.69h-16.47zM312.58,450.49h11.08v5.69h-11.08zM328.75,450.49h156.61v5.69h-156.61zM662.93,450.49h5.69v5.69h-5.69zM296.41,455.88h11.08v5.69h-11.08zM334.14,455.88h11.08v5.69h-11.08zM382.65,455.88h48.81v5.69h-48.81zM447.33,455.88h32.64v5.69h-32.64zM495.84,455.88h5.69v5.69h-5.69zM301.80,461.27h5.69v5.69h-5.69zM334.14,461.27h21.86v5.69h-21.86zM382.65,461.27h11.08v5.69h-11.08zM404.21,461.27h27.25v5.69h-27.25zM447.33,461.27h5.69v5.69h-5.69zM458.11,461.27h27.25v5.69h-27.25zM301.80,466.66h5.69v5.69h-5.69zM334.14,466.66h21.86v5.69h-21.86zM382.65,466.66h32.64v5.69h-32.64zM431.16,466.66h27.25v5.69h-27.25zM463.50,466.66h5.69v5.69h-5.69zM490.45,466.66h5.69v5.69h-5.69zM307.19,472.05h5.69v5.69h-5.69zM334.14,472.05h27.25v5.69h-27.25zM377.26,472.05h16.47v5.69h-16.47zM398.82,472.05h16.47v5.69h-16.47zM431.16,472.05h27.25v5.69h-27.25zM657.54,472.05h11.08v5.69h-11.08zM307.19,477.44h54.20v5.69h-54.20zM382.65,477.44h5.69v5.69h-5.69zM398.82,477.44h16.47v5.69h-16.47zM425.77,477.44h21.86v5.69h-21.86zM619.81,477.44h5.69v5.69h-5.69zM630.59,477.44h11.08v5.69h-11.08zM646.76,477.44h11.08v5.69h-11.08zM662.93,477.44h11.08v5.69h-11.08zM312.58,482.83h5.69v5.69h-5.69zM334.14,482.83h27.25v5.69h-27.25zM366.48,482.83h21.86v5.69h-21.86zM398.82,482.83h38.03v5.69h-38.03zM441.94,482.83h5.69v5.69h-5.69zM474.28,482.83h11.08v5.69h-11.08zM619.81,482.83h11.08v5.69h-11.08zM635.98,482.83h38.03v5.69h-38.03zM334.14,488.22h11.08v5.69h-11.08zM355.70,488.22h32.64v5.69h-32.64zM393.43,488.22h11.08v5.69h-11.08zM409.60,488.22h16.47v5.69h-16.47zM463.50,488.22h5.69v5.69h-5.69zM474.28,488.22h5.69v5.69h-5.69zM609.03,488.22h54.20v5.69h-54.20zM668.32,488.22h5.69v5.69h-5.69zM280.24,493.61h11.08v5.69h-11.08zM355.70,493.61h97.32v5.69h-97.32zM458.11,493.61h21.86v5.69h-21.86zM538.96,493.61h21.86v5.69h-21.86zM598.25,493.61h16.47v5.69h-16.47zM619.81,493.61h54.20v5.69h-54.20zM280.24,499.00h5.69v5.69h-5.69zM323.36,499.00h11.08v5.69h-11.08zM339.53,499.00h59.59v5.69h-59.59zM425.77,499.00h5.69v5.69h-5.69zM549.74,499.00h11.08v5.69h-11.08zM587.47,499.00h86.54v5.69h-86.54zM296.41,504.39h5.69v5.69h-5.69zM312.58,504.39h16.47v5.69h-16.47zM334.14,504.39h5.69v5.69h-5.69zM344.92,504.39h59.59v5.69h-59.59zM420.38,504.39h11.08v5.69h-11.08zM538.96,504.39h27.25v5.69h-27.25zM598.25,504.39h27.25v5.69h-27.25zM630.59,504.39h48.81v5.69h-48.81zM291.02,509.78h38.03v5.69h-38.03zM334.14,509.78h38.03v5.69h-38.03zM377.26,509.78h75.76v5.69h-75.76zM490.45,509.78h5.69v5.69h-5.69zM501.23,509.78h16.47v5.69h-16.47zM522.79,509.78h27.25v5.69h-27.25zM576.69,509.78h16.47v5.69h-16.47zM598.25,509.78h32.64v5.69h-32.64zM641.37,509.78h21.86v5.69h-21.86zM673.71,509.78h5.69v5.69h-5.69zM307.19,515.17h151.22v5.69h-151.22zM463.50,515.17h5.69v5.69h-5.69zM479.67,515.17h5.69v5.69h-5.69zM490.45,515.17h48.81v5.69h-48.81zM565.91,515.17h21.86v5.69h-21.86zM598.25,515.17h59.59v5.69h-59.59zM673.71,515.17h5.69v5.69h-5.69zM307.19,520.56h43.42v5.69h-43.42zM355.70,520.56h5.69v5.69h-5.69zM371.87,520.56h97.32v5.69h-97.32zM501.23,520.56h27.25v5.69h-27.25zM555.13,520.56h21.86v5.69h-21.86zM582.08,520.56h5.69v5.69h-5.69zM598.25,520.56h27.25v5.69h-27.25zM630.59,520.56h21.86v5.69h-21.86zM668.32,520.56h11.08v5.69h-11.08zM307.19,525.95h5.69v5.69h-5.69zM328.75,525.95h21.86v5.69h-21.86zM361.09,525.95h38.03v5.69h-38.03zM404.21,525.95h59.59v5.69h-59.59zM501.23,525.95h27.25v5.69h-27.25zM538.96,525.95h16.47v5.69h-16.47zM609.03,525.95h16.47v5.69h-16.47zM630.59,525.95h11.08v5.69h-11.08zM646.76,525.95h5.69v5.69h-5.69zM662.93,525.95h21.86v5.69h-21.86zM328.75,531.34h5.69v5.69h-5.69zM361.09,531.34h108.10v5.69h-108.10zM501.23,531.34h11.08v5.69h-11.08zM533.57,531.34h5.69v5.69h-5.69zM603.64,531.34h16.47v5.69h-16.47zM630.59,531.34h5.69v5.69h-5.69zM652.15,531.34h5.69v5.69h-5.69zM668.32,531.34h16.47v5.69h-16.47zM301.80,536.73h11.08v5.69h-11.08zM323.36,536.73h11.08v5.69h-11.08zM350.31,536.73h91.93v5.69h-91.93zM452.72,536.73h21.86v5.69h-21.86zM512.01,536.73h5.69v5.69h-5.69zM598.25,536.73h38.03v5.69h-38.03zM668.32,536.73h21.86v5.69h-21.86zM307.19,542.12h38.03v5.69h-38.03zM350.31,542.12h48.81v5.69h-48.81zM409.60,542.12h32.64v5.69h-32.64zM452.72,542.12h5.69v5.69h-5.69zM463.50,542.12h21.86v5.69h-21.86zM506.62,542.12h5.69v5.69h-5.69zM517.40,542.12h27.25v5.69h-27.25zM592.86,542.12h21.86v5.69h-21.86zM641.37,542.12h48.81v5.69h-48.81zM323.36,547.51h59.59v5.69h-59.59zM414.99,547.51h11.08v5.69h-11.08zM431.16,547.51h54.20v5.69h-54.20zM490.45,547.51h5.69v5.69h-5.69zM517.40,547.51h5.69v5.69h-5.69zM565.91,547.51h11.08v5.69h-11.08zM641.37,547.51h21.86v5.69h-21.86zM684.49,547.51h5.69v5.69h-5.69zM328.75,552.90h54.20v5.69h-54.20zM409.60,552.90h75.76v5.69h-75.76zM571.30,552.90h5.69v5.69h-5.69zM641.37,552.90h11.08v5.69h-11.08zM684.49,552.90h11.08v5.69h-11.08zM328.75,558.29h48.81v5.69h-48.81zM393.43,558.29h11.08v5.69h-11.08zM431.16,558.29h70.37v5.69h-70.37zM689.88,558.29h5.69v5.69h-5.69zM328.75,563.68h38.03v5.69h-38.03zM393.43,563.68h11.08v5.69h-11.08zM458.11,563.68h27.25v5.69h-27.25zM490.45,563.68h5.69v5.69h-5.69zM695.27,563.68h5.69v5.69h-5.69zM328.75,569.07h5.69v5.69h-5.69zM344.92,569.07h21.86v5.69h-21.86zM393.43,569.07h11.08v5.69h-11.08zM458.11,569.07h16.47v5.69h-16.47zM695.27,569.07h11.08v5.69h-11.08zM344.92,574.46h21.86v5.69h-21.86zM393.43,574.46h5.69v5.69h-5.69zM458.11,574.46h11.08v5.69h-11.08zM549.74,574.46h5.69v5.69h-5.69zM560.52,574.46h5.69v5.69h-5.69zM587.47,574.46h11.08v5.69h-11.08zM614.42,574.46h16.47v5.69h-16.47zM695.27,574.46h11.08v5.69h-11.08zM339.53,579.85h21.86v5.69h-21.86zM458.11,579.85h11.08v5.69h-11.08zM506.62,579.85h5.69v5.69h-5.69zM533.57,579.85h32.64v5.69h-32.64zM571.30,579.85h5.69v5.69h-5.69zM700.66,579.85h11.08v5.69h-11.08zM323.36,585.24h11.08v5.69h-11.08zM452.72,585.24h16.47v5.69h-16.47zM506.62,585.24h11.08v5.69h-11.08zM533.57,585.24h38.03v5.69h-38.03zM706.05,585.24h5.69v5.69h-5.69zM447.33,590.63h32.64v5.69h-32.64zM485.06,590.63h16.47v5.69h-16.47zM706.05,590.63h5.69v5.69h-5.69zM436.55,596.02h16.47v5.69h-16.47zM479.67,596.02h5.69v5.69h-5.69zM544.35,596.02h11.08v5.69h-11.08zM560.52,596.02h16.47v5.69h-16.47zM582.08,596.02h5.69v5.69h-5.69zM706.05,596.02h11.08v5.69h-11.08zM436.55,601.41h11.08v5.69h-11.08zM700.66,601.41h11.08v5.69h-11.08zM662.93,606.80h5.69v5.69h-5.69zM684.49,606.80h32.64v5.69h-32.64zM420.38,612.19h11.08v5.69h-11.08zM652.15,612.19h11.08v5.69h-11.08zM668.32,612.19h5.69v5.69h-5.69zM684.49,612.19h16.47v5.69h-16.47zM711.44,612.19h11.08v5.69h-11.08zM420.38,617.58h5.69v5.69h-5.69zM630.59,617.58h27.25v5.69h-27.25zM716.83,617.58h5.69v5.69h-5.69zM393.43,622.97h27.25v5.69h-27.25zM603.64,622.97h11.08v5.69h-11.08zM619.81,622.97h21.86v5.69h-21.86zM388.04,628.36h16.47v5.69h-16.47zM598.25,628.36h5.69v5.69h-5.69zM382.65,633.75h11.08v5.69h-11.08zM592.86,633.75h48.81v5.69h-48.81zM382.65,639.14h5.69v5.69h-5.69zM441.94,639.14h16.47v5.69h-16.47zM468.89,639.14h5.69v5.69h-5.69zM565.91,639.14h43.42v5.69h-43.42zM382.65,644.53h5.69v5.69h-5.69zM431.16,644.53h21.86v5.69h-21.86zM495.84,644.53h16.47v5.69h-16.47zM382.65,649.92h11.08v5.69h-11.08zM425.77,649.92h38.03v5.69h-38.03zM512.01,649.92h16.47v5.69h-16.47zM533.57,649.92h21.86v5.69h-21.86zM388.04,655.31h16.47v5.69h-16.47zM414.99,655.31h11.08v5.69h-11.08zM463.50,655.31h38.03v5.69h-38.03zM512.01,655.31h43.42v5.69h-43.42zM398.82,660.70h21.86v5.69h-21.86zM490.45,660.70h64.98v5.69h-64.98zM398.82,666.09h16.47v5.69h-16.47zM565.91,757.72h11.08v5.69h-11.08zM609.03,757.72h5.69v5.69h-5.69zM662.93,757.72h27.25v5.69h-27.25zM560.52,763.11h5.69v5.69h-5.69zM571.30,763.11h11.08v5.69h-11.08zM603.64,763.11h38.03v5.69h-38.03zM646.76,763.11h21.86v5.69h-21.86zM565.91,768.50h70.37v5.69h-70.37zM641.37,768.50h5.69v5.69h-5.69zM652.15,768.50h11.08v5.69h-11.08zM560.52,773.89h43.42v5.69h-43.42zM609.03,773.89h32.64v5.69h-32.64zM555.13,779.28h21.86v5.69h-21.86zM592.86,779.28h11.08v5.69h-11.08zM609.03,779.28h27.25v5.69h-27.25zM560.52,784.67h11.08v5.69h-11.08zM592.86,784.67h11.08v5.69h-11.08zM619.81,784.67h5.69v5.69h-5.69zM684.49,784.67h5.69v5.69h-5.69zM544.35,790.06h32.64v5.69h-32.64zM592.86,790.06h16.47v5.69h-16.47zM662.93,790.06h16.47v5.69h-16.47zM684.49,790.06h5.69v5.69h-5.69zM544.35,795.45h38.03v5.69h-38.03zM592.86,795.45h16.47v5.69h-16.47zM662.93,795.45h5.69v5.69h-5.69zM544.35,800.84h16.47v5.69h-16.47zM565.91,800.84h21.86v5.69h-21.86zM641.37,800.84h5.69v5.69h-5.69zM544.35,806.23h16.47v5.69h-16.47zM565.91,806.23h21.86v5.69h-21.86z"/>
<path fill="#52854d" d="M242.51,256.45h5.69v5.69h-5.69zM291.02,337.30h5.69v5.69h-5.69zM280.24,342.69h38.03v5.69h-38.03zM247.90,348.08h11.08v5.69h-11.08zM274.85,348.08h48.81v5.69h-48.81zM237.12,353.47h86.54v5.69h-86.54zM237.12,358.86h32.64v5.69h-32.64zM274.85,358.86h48.81v5.69h-48.81zM237.12,364.25h43.42v5.69h-43.42zM296.41,364.25h21.86v5.69h-21.86zM237.12,369.64h32.64v5.69h-32.64zM334.14,369.64h5.69v5.69h-5.69zM231.73,375.03h27.25v5.69h-27.25zM285.63,375.03h11.08v5.69h-11.08zM323.36,375.03h27.25v5.69h-27.25zM226.34,380.42h16.47v5.69h-16.47zM247.90,380.42h5.69v5.69h-5.69zM280.24,380.42h11.08v5.69h-11.08zM323.36,380.42h27.25v5.69h-27.25zM226.34,385.81h16.47v5.69h-16.47zM280.24,385.81h5.69v5.69h-5.69zM334.14,385.81h21.86v5.69h-21.86zM468.89,385.81h11.08v5.69h-11.08zM220.95,391.20h27.25v5.69h-27.25zM269.46,391.20h16.47v5.69h-16.47zM312.58,391.20h27.25v5.69h-27.25zM441.94,391.20h5.69v5.69h-5.69zM468.89,391.20h11.08v5.69h-11.08zM220.95,396.59h27.25v5.69h-27.25zM264.07,396.59h32.64v5.69h-32.64zM307.19,396.59h38.03v5.69h-38.03zM436.55,396.59h21.86v5.69h-21.86zM463.50,396.59h11.08v5.69h-11.08zM220.95,401.98h64.98v5.69h-64.98zM291.02,401.98h21.86v5.69h-21.86zM328.75,401.98h21.86v5.69h-21.86zM388.04,401.98h5.69v5.69h-5.69zM420.38,401.98h38.03v5.69h-38.03zM220.95,407.37h54.20v5.69h-54.20zM328.75,407.37h16.47v5.69h-16.47zM361.09,407.37h11.08v5.69h-11.08zM409.60,407.37h5.69v5.69h-5.69zM420.38,407.37h38.03v5.69h-38.03zM220.95,412.76h27.25v5.69h-27.25zM344.92,412.76h32.64v5.69h-32.64zM393.43,412.76h5.69v5.69h-5.69zM431.16,412.76h32.64v5.69h-32.64zM344.92,418.15h32.64v5.69h-32.64zM393.43,418.15h11.08v5.69h-11.08zM431.16,418.15h27.25v5.69h-27.25zM312.58,423.54h5.69v5.69h-5.69zM344.92,423.54h21.86v5.69h-21.86zM344.92,428.93h16.47v5.69h-16.47zM425.77,428.93h27.25v5.69h-27.25zM328.75,434.32h16.47v5.69h-16.47zM420.38,434.32h32.64v5.69h-32.64zM420.38,439.71h32.64v5.69h-32.64zM431.16,445.10h16.47v5.69h-16.47zM431.16,455.88h16.47v5.69h-16.47zM431.16,461.27h16.47v5.69h-16.47zM452.72,461.27h5.69v5.69h-5.69zM414.99,466.66h16.47v5.69h-16.47zM414.99,472.05h16.47v5.69h-16.47zM414.99,477.44h11.08v5.69h-11.08zM404.21,488.22h5.69v5.69h-5.69zM662.93,488.22h5.69v5.69h-5.69zM614.42,493.61h5.69v5.69h-5.69zM571.30,499.00h16.47v5.69h-16.47zM328.75,504.39h5.69v5.69h-5.69zM339.53,504.39h5.69v5.69h-5.69zM565.91,504.39h32.64v5.69h-32.64zM625.20,504.39h5.69v5.69h-5.69zM328.75,509.78h5.69v5.69h-5.69zM371.87,509.78h5.69v5.69h-5.69zM549.74,509.78h27.25v5.69h-27.25zM630.59,509.78h11.08v5.69h-11.08zM662.93,509.78h11.08v5.69h-11.08zM538.96,515.17h27.25v5.69h-27.25zM657.54,515.17h16.47v5.69h-16.47zM361.09,520.56h11.08v5.69h-11.08zM468.89,520.56h32.64v5.69h-32.64zM528.18,520.56h27.25v5.69h-27.25zM625.20,520.56h5.69v5.69h-5.69zM652.15,520.56h16.47v5.69h-16.47zM312.58,525.95h16.47v5.69h-16.47zM398.82,525.95h5.69v5.69h-5.69zM463.50,525.95h38.03v5.69h-38.03zM528.18,525.95h11.08v5.69h-11.08zM603.64,525.95h5.69v5.69h-5.69zM625.20,525.95h5.69v5.69h-5.69zM641.37,525.95h5.69v5.69h-5.69zM652.15,525.95h11.08v5.69h-11.08zM307.19,531.34h21.86v5.69h-21.86zM468.89,531.34h32.64v5.69h-32.64zM512.01,531.34h16.47v5.69h-16.47zM312.58,536.73h11.08v5.69h-11.08zM441.94,536.73h11.08v5.69h-11.08zM474.28,536.73h38.03v5.69h-38.03zM398.82,542.12h11.08v5.69h-11.08zM441.94,542.12h11.08v5.69h-11.08zM458.11,542.12h5.69v5.69h-5.69zM485.06,542.12h21.86v5.69h-21.86zM382.65,547.51h32.64v5.69h-32.64zM425.77,547.51h5.69v5.69h-5.69zM485.06,547.51h5.69v5.69h-5.69zM662.93,547.51h21.86v5.69h-21.86zM382.65,552.90h27.25v5.69h-27.25zM485.06,552.90h5.69v5.69h-5.69zM652.15,552.90h16.47v5.69h-16.47zM679.10,552.90h5.69v5.69h-5.69zM377.26,558.29h16.47v5.69h-16.47zM641.37,558.29h16.47v5.69h-16.47zM366.48,563.68h21.86v5.69h-21.86zM641.37,563.68h5.69v5.69h-5.69zM334.14,569.07h11.08v5.69h-11.08zM366.48,569.07h16.47v5.69h-16.47zM328.75,574.46h16.47v5.69h-16.47zM598.25,574.46h16.47v5.69h-16.47zM630.59,574.46h5.69v5.69h-5.69zM328.75,579.85h11.08v5.69h-11.08zM582.08,579.85h38.03v5.69h-38.03zM517.40,585.24h16.47v5.69h-16.47zM571.30,585.24h38.03v5.69h-38.03zM501.23,590.63h108.10v5.69h-108.10zM452.72,596.02h27.25v5.69h-27.25zM485.06,596.02h59.59v5.69h-59.59zM576.69,596.02h5.69v5.69h-5.69zM695.27,596.02h11.08v5.69h-11.08zM447.33,601.41h86.54v5.69h-86.54zM684.49,601.41h16.47v5.69h-16.47zM436.55,606.80h86.54v5.69h-86.54zM641.37,606.80h5.69v5.69h-5.69zM652.15,606.80h11.08v5.69h-11.08zM668.32,606.80h16.47v5.69h-16.47zM431.16,612.19h70.37v5.69h-70.37zM641.37,612.19h11.08v5.69h-11.08zM673.71,612.19h11.08v5.69h-11.08zM425.77,617.58h70.37v5.69h-70.37zM420.38,622.97h64.98v5.69h-64.98zM614.42,622.97h5.69v5.69h-5.69zM404.21,628.36h75.76v5.69h-75.76zM603.64,628.36h11.08v5.69h-11.08zM393.43,633.75h81.15v5.69h-81.15zM576.69,633.75h16.47v5.69h-16.47zM388.04,639.14h54.20v5.69h-54.20zM458.11,639.14h11.08v5.69h-11.08zM495.84,639.14h21.86v5.69h-21.86zM388.04,644.53h43.42v5.69h-43.42zM452.72,644.53h43.42v5.69h-43.42zM533.57,644.53h21.86v5.69h-21.86zM393.43,649.92h32.64v5.69h-32.64zM463.50,649.92h48.81v5.69h-48.81zM404.21,655.31h11.08v5.69h-11.08zM501.23,655.31h11.08v5.69h-11.08zM668.32,763.11h21.86v5.69h-21.86zM662.93,768.50h27.25v5.69h-27.25zM679.10,773.89h11.08v5.69h-11.08zM576.69,779.28h16.47v5.69h-16.47zM635.98,779.28h11.08v5.69h-11.08zM679.10,779.28h11.08v5.69h-11.08zM582.08,784.67h11.08v5.69h-11.08zM625.20,784.67h16.47v5.69h-16.47zM679.10,784.67h5.69v5.69h-5.69zM582.08,790.06h11.08v5.69h-11.08zM614.42,790.06h21.86v5.69h-21.86zM582.08,795.45h11.08v5.69h-11.08zM609.03,795.45h27.25v5.69h-27.25zM646.76,795.45h5.69v5.69h-5.69zM560.52,800.84h5.69v5.69h-5.69zM587.47,800.84h48.81v5.69h-48.81zM646.76,800.84h5.69v5.69h-5.69zM560.52,806.23h5.69v5.69h-5.69zM587.47,806.23h48.81v5.69h-48.81z"/>
<path fill="#73cff2" d="M269.46,358.86h5.69v5.69h-5.69zM280.24,364.25h16.47v5.69h-16.47zM269.46,369.64h27.25v5.69h-27.25zM258.68,375.03h27.25v5.69h-27.25zM242.51,380.42h5.69v5.69h-5.69zM253.29,380.42h27.25v5.69h-27.25zM242.51,385.81h38.03v5.69h-38.03zM247.90,391.20h21.86v5.69h-21.86zM247.90,396.59h16.47v5.69h-16.47zM668.32,552.90h11.08v5.69h-11.08zM657.54,558.29h32.64v5.69h-32.64zM646.76,563.68h48.81v5.69h-48.81zM641.37,569.07h16.47v5.69h-16.47zM662.93,569.07h32.64v5.69h-32.64zM635.98,574.46h5.69v5.69h-5.69zM625.20,579.85h16.47v5.69h-16.47zM695.27,579.85h5.69v5.69h-5.69zM609.03,585.24h16.47v5.69h-16.47zM695.27,585.24h11.08v5.69h-11.08zM609.03,590.63h5.69v5.69h-5.69zM689.88,590.63h16.47v5.69h-16.47zM555.13,596.02h5.69v5.69h-5.69zM587.47,596.02h27.25v5.69h-27.25zM673.71,596.02h21.86v5.69h-21.86zM533.57,601.41h54.20v5.69h-54.20zM609.03,601.41h5.69v5.69h-5.69zM657.54,601.41h27.25v5.69h-27.25zM522.79,606.80h38.03v5.69h-38.03zM609.03,606.80h5.69v5.69h-5.69zM646.76,606.80h5.69v5.69h-5.69zM501.23,612.19h54.20v5.69h-54.20zM587.47,612.19h27.25v5.69h-27.25zM495.84,617.58h43.42v5.69h-43.42zM576.69,617.58h54.20v5.69h-54.20zM485.06,622.97h48.81v5.69h-48.81zM576.69,622.97h27.25v5.69h-27.25zM479.67,628.36h59.59v5.69h-59.59zM555.13,628.36h43.42v5.69h-43.42zM474.28,633.75h70.37v5.69h-70.37zM549.74,633.75h27.25v5.69h-27.25zM474.28,639.14h21.86v5.69h-21.86zM517.40,639.14h48.81v5.69h-48.81zM512.01,644.53h21.86v5.69h-21.86zM646.76,773.89h32.64v5.69h-32.64zM646.76,779.28h32.64v5.69h-32.64zM641.37,784.67h38.03v5.69h-38.03zM635.98,790.06h27.25v5.69h-27.25zM635.98,795.45h11.08v5.69h-11.08zM635.98,800.84h5.69v5.69h-5.69zM635.98,806.23h5.69v5.69h-5.69z"/>
<path fill="#3f4fa6" d="M657.54,569.07h5.69v5.69h-5.69zM641.37,574.46h54.20v5.69h-54.20zM619.81,579.85h5.69v5.69h-5.69zM641.37,579.85h54.20v5.69h-54.20zM625.20,585.24h70.37v5.69h-70.37zM614.42,590.63h75.76v5.69h-75.76zM614.42,596.02h59.59v5.69h-59.59zM587.47,601.41h21.86v5.69h-21.86zM614.42,601.41h43.42v5.69h-43.42zM560.52,606.80h48.81v5.69h-48.81zM614.42,606.80h27.25v5.69h-27.25zM555.13,612.19h32.64v5.69h-32.64zM614.42,612.19h27.25v5.69h-27.25zM538.96,617.58h38.03v5.69h-38.03zM533.57,622.97h43.42v5.69h-43.42zM538.96,628.36h16.47v5.69h-16.47zM544.35,633.75h5.69v5.69h-5.69z"/>
<path fill="#ffffff" d="M188.61,649.92h5.69v5.69h-5.69zM188.61,741.55h5.69v5.69h-5.69zM264.07,822.40h5.69v5.69h-5.69zM264.07,838.57h5.69v5.69h-5.69zM253.29,843.96h16.47v5.69h-16.47zM253.29,849.35h16.47v5.69h-16.47zM264.07,854.74h11.08v5.69h-11.08z"/>
</g>
<defs><clipPath id="st"><path d="M229.5,208.8 231.3,215 234,219 237.5,221.6 245.3,224.2 183.4,675 196.8,901 197.3,903.2 201,900.5 205.4,897.9 210.7,901.4 214.3,898.8 221,900.5 228.6,903.2 228.8,909.5 236.6,911.6 240.2,905 241.2,895 242,887.1 245.5,872.9 250.9,856.8 254,849.5 256.5,851 259,852 262.5,858.6 267,865 270.5,872.9 268.5,878 266,883.6 267,889 270.5,894.3 276,897.5 282,898.8 282.5,902 284.8,905 289,911 292.9,915.7 294,920.4 303,919.8 310.7,918.9 318,916.5 321.4,913.5 318.5,909 316,904.5 319,905 322,909 326,911 332,906 339.3,901.4 345,899 350,896 354,892 353.6,889 349,887.5 343.8,888 342,883 341.1,877.3 343.5,872 346.4,867.5 348,862 347.3,857.7 339,853 330.4,848.8 326,843 321.4,837.1 317,832 313.4,827.3 314.5,822 317.9,817.5 318,812 316.5,808.8 706.2,809.2 704,800 699.7,790.2 694,785.5 691.5,781 690.5,768.1 692,761 694.5,755.6 696.8,742.1 699,735 700.1,728.6 700,721 698.7,715.1 694,708 689.7,702.6 687,694 685.3,685.3 686.5,677 689.1,668.9 693.5,663 697.8,657.3 699.3,649 699,642 702.1,632.3 706,629.5 710.8,628 715,626.5 718,624.4 721.5,621.5 722.4,619 721,616.8 718,614.3 712,610.5 707.1,607 709.5,604 711.5,601.3 711.8,597 710.8,592.6 709.5,586 707.1,579.6 702.5,574 697.8,568.8 694,565 691.3,560.9 689.5,551 687.7,542 684,538 681.2,533.4 678.8,525 676.8,517.5 669.6,480 617,211.3Z"/></clipPath></defs>
<g clip-path="url(#st)" fill="none" stroke="#000" stroke-width="1.9" stroke-dasharray="1.95 2.6" stroke-linejoin="round">
<path d="M246.2,223.8 255,225 265,228.8 270,237.5 280,246.2 290,248.8 300,245 312.5,238.8 327.5,235.5 340,238.8 346.2,242.5 352.5,237.5 360,240 366.2,246.2 370,242.5 377.5,243.8 385,251.2 392.5,257.5 405,262.5 420,270 432,273.8"/>
<path d="M375.8,212.5 375,225 373.8,236.2 368.8,243.8"/>
<path d="M241.2,272.5 327.5,273.8"/>
<path d="M346.2,242.5 340,255 331.2,267.5 327.5,273.8 327.5,312.5"/>
<path d="M236.2,311.8 312.5,312.5 327.5,312.5 390,313.8 432,313"/>
<path d="M392.5,257.5 391.2,313.8 390.8,360 392.5,370"/>
<path d="M312,312.5 311.2,345 311.8,358.8 311.8,377.5"/>
<path d="M311.8,358.8 360,358.8 380,358.8 390.8,360.5"/>
<path d="M231.2,350 255,349.5 260,351.2 263.8,356.2 265,371.2 266.2,425"/>
<path d="M265,371.2 285,370.8 311.8,372"/>
<path d="M311.8,377.5 320,378.8 328.8,380 328.8,405 345,406.2 345,417.5"/>
<path d="M307.5,425 310,417.5 345,417.5 355,420 360,425"/>
<path d="M392.5,370 397.5,376.2 412.5,380 413.8,385 405,392.5 400,405 392.5,412.5 380,420 372.5,425"/>
<path d="M413.8,382.5 420,375 432,368.8"/>
<path d="M413.8,385 432,382.5"/>
<path d="M439.5,213.8 439.5,275"/>
<path d="M432,273.8 439.5,275 447,272.5 454.5,271.2 459.5,276.2 467,272.5 473.2,275 477,282.5 484.5,287.5 497,283.8 504.5,280 510.8,277.5 512,270 504.5,265 505.8,247.5 507,230 512,217.5 519.5,218.8"/>
<path d="M473.2,275 469.5,292.5 469.5,312.5"/>
<path d="M432,313 485.8,313"/>
<path d="M485.8,313 477,322.5 467,337.5 454.5,347.5 452,355 442,362.5 432,367.5"/>
<path d="M485.8,313 494.5,325 509.5,343.8"/>
<path d="M509.5,343.8 505.8,355 504.5,367.5 507,372.5 514.5,362.5 527,362.5 537,372.5 549.5,381.2"/>
<path d="M512,268.8 535.8,268.8 535.8,276.2 543.2,285 545.8,288.8"/>
<path d="M545.8,288.8 562,282.5 582,270 602,250 617,230"/>
<path d="M545.8,288.8 539.5,297.5 542,305 542,328.8"/>
<path d="M509.5,343.8 527,331.2 542,328.8 580.8,328.2"/>
<path d="M580.8,322.5 594.5,315 612,297.5 627,283.8"/>
<path d="M580.8,322.5 580.8,340 588.2,341.2 594.5,355 597,362.5 597,366.2"/>
<path d="M597,365 627,366.2 645.8,366.2"/>
<path d="M549.5,381.2 562,372.5 572,370 577,365 592,367.5 597,366.2"/>
<path d="M632,367.5 622,375 612,378.8 619.5,387.5 612,400 610.8,410 604.5,415 594.5,420"/>
<path d="M549.5,381.2 548.2,392.5 542,400 529.5,406.2 532,407.5 549.5,407.5 557,418.8 587,420 594.5,420 587,425"/>
<path d="M507,372.5 499.5,380 489.5,387.5 479.5,390 459.5,395 443.2,383.8 432,383"/>
<path d="M479.5,390 479.5,402.5 477,412.5 474.5,425"/>
<path d="M532,407.5 528.2,417.5 524.5,425"/>
<path d="M220,430 265,430 282.5,430 305,430 310,425"/>
<path d="M282.5,430 282,487.5 283.8,505"/>
<path d="M283.8,505 300,505.5 360,507"/>
<path d="M360,507 360,497.5 365,490 377.5,487.5 380,477.5 387.5,472.5 395,472.5 405,471.2"/>
<path d="M360,425 357.5,437.5 370,447.5 385,460 397.5,465 405,471.2"/>
<path d="M405,471.2 415,467.5 422.5,460 432,456.2"/>
<path d="M405,471.2 405,482.5 412.5,487.5 415,495 425,500 432,498.8"/>
<path d="M425,500 425,533.8 405,534.2 360,533.8 355,527.5 345,528.8 344.5,507.5"/>
<path d="M345,528.8 336.2,536.2 336.2,557.5 330,561.2 328.8,585"/>
<path d="M405,534.2 403.8,550 402.5,567.5 392.5,585 345,585.8 343.8,612.5 328.8,613 328.8,585"/>
<path d="M328.8,585 300,585 297.5,581.2 285,580"/>
<path d="M282.5,486.2 267.5,490 252.5,497.5 235,502.5 231.2,511.2 226.2,521.2 232.5,532.5 240,537.5 241.2,552.5 247.5,557.5 248.8,567.5 262.5,568.8 272.5,565 280,568.8 275,575 285,580"/>
<path d="M300,505.5 296.2,517.5 285,525 280,542.5 287.5,555 295,562.5 290,575 285,580"/>
<path d="M208.8,510.8 231.2,511.2"/>
<path d="M285,580 272.5,581.2 257.5,590 251.2,597.5 252.5,605 265,611.2 267.5,615"/>
<path d="M197.5,612.5 265,612"/>
<path d="M267.5,615 255,617.5 255,632.5 250,645"/>
<path d="M405,559.2 420,559.2 420,575 430,595 432,600"/>
<path d="M343.8,612.5 336.2,617.5 330,622.5 328.8,637.5 315,638.8 313.8,645"/>
<path d="M336.2,617.5 355,622.5 370,637.5 377.5,645"/>
<path d="M420,625 420,645"/>
<path d="M474.5,425 482,430 500.8,432.5 502,445 504.5,452.5 497,465 492,472.5 482,480 485.8,491.2"/>
<path d="M432,456.2 452,440 464.5,435 474.5,425"/>
<path d="M485.8,491.2 557,492.5 609.5,492 667,491.2"/>
<path d="M432,497.5 464.5,497.5 473.2,502.5 478.2,507.5 479.5,512.5 484.5,525 492,537.5 495.8,545"/>
<path d="M495.8,545 557,545.8 572,546.8 573.2,560 574.5,572.5 577,585 567,592.5 552,597.5"/>
<path d="M557,492.5 555.8,545.8"/>
<path d="M609.5,492 618.2,493.8 619,547.5"/>
<path d="M619,547.5 604.5,552.5 602,567.5 592,571.2 587,572.5 588.2,582.5 577,585"/>
<path d="M619,547.5 644.5,547.5 684,547"/>
<path d="M495.8,545 494.5,552.5 449.5,553 449.5,560 432,560"/>
<path d="M495.8,552.5 497,592.5"/>
<path d="M497,592.5 509.5,595 514.5,583.8 518.2,582.5 524.5,587.5 542,595 552,597.5"/>
<path d="M432,600 442,602.5 447,597.5 462,596.2 469.5,601.2 482,607.5 494.5,622.5 495.8,645"/>
<path d="M482,607.5 487,600 497,592.5"/>
<path d="M552,597.5 559.5,607.5 574.5,615 577,623.8 642,623.8"/>
<path d="M559.5,617.5 557,625 556.5,645"/>
<path d="M602,567.5 617,575 629.5,580 642,587.5 643.2,623.8 643.2,645"/>
<path d="M643.2,597.5 658.2,597.5 658.2,587.5 684,587.5 697,587.5"/>
<path d="M530.8,492.5 532,477.5 539.5,477.5 539.5,463.8 559.5,463.8 562,450 569.5,445 570.8,436.2 587,435 657,434.5"/>
<path d="M610.8,435 610,492"/>
<path d="M570.8,436.2 582,430 592,425"/>
<path d="M643.2,635 667,636.2 674.5,642.5 684,645"/>
<path d="M684,547 700.8,547"/>
<path d="M240,645 241.2,657.5 247.5,660 248.8,667.5 242.5,670 237.5,677.5 231.2,685 233.8,692.5 242.5,695 243.8,703.8"/>
<path d="M247.5,660 307.5,659.5 315,645"/>
<path d="M307.5,659.5 306.2,672.5 315,677.5 316.2,683.8 420,683.8"/>
<path d="M420,665 420,715 426.2,725 432,727.5"/>
<path d="M188.8,704.2 243.8,703.8"/>
<path d="M243.8,703.8 246.2,715 255,722.5 267.5,727.5 271.2,735 267.5,742.5 273.8,752.5 266.2,760 261.2,768.8 266.2,772.5 265,795 263.2,800 262.2,808 264.2,816 259.8,825.8 263.2,833.8 253.5,845.5"/>
<path d="M330,685 331.2,700 323.8,705 322.5,720 316.2,731.2 322.5,737.5 321.2,743.8 310,745 300,752.5 290,761.2 280,768.8 266.2,780"/>
<path d="M287.5,761.2 300,762.5 310,770 316.2,772.5"/>
<path d="M316.2,772.5 330,772.5 342.5,768.8 432,768.2"/>
<path d="M316.2,772.5 315,807.5"/>
<path d="M342.5,768.8 360,752.5 380,735 387.5,712.5 400,702.5 420,696.2"/>
<path d="M195,790 207.5,786.2 265,786.2"/>
<path d="M420,665 432,664.5"/>
<path d="M432,663.8 489.5,663 497,661.2 497,645"/>
<path d="M512,645 512,663 557,662.5 557,645"/>
<path d="M490.8,663.8 489.5,705 482,710 480.8,728.8"/>
<path d="M529.5,663.8 530.8,675 527,687.5 534.5,691.2 535.8,705 530.8,715"/>
<path d="M530.8,715 588.2,715.8 594.5,715.8 644.5,715.8"/>
<path d="M432,730 480.8,728.8 497,729.2 497.5,740 504.5,735 513.2,728.8 515.8,738.8 522,741.2 528.2,741.2"/>
<path d="M528.2,741.2 527.8,730 535.8,725 535,716.2"/>
<path d="M528.2,741.2 529,780 530,807.5"/>
<path d="M452,730 452.5,742.5 457,747.5 455.8,755 452,760 452,807.5"/>
<path d="M432,767.5 440.8,768.8 442,777.5 450.8,780"/>
<path d="M529,780 588.2,778.8 634.5,778.2"/>
<path d="M588.2,715.8 587.8,778.8"/>
<path d="M594.5,715.8 604.5,695 607,685 607,677.5 588.2,677 588.2,662.5 574.5,661.2 570.8,652.5 559.5,648.8"/>
<path d="M607,677.5 617,660 629.5,657.5 643.2,655 643.2,645"/>
<path d="M644.5,715.8 644.5,702.5 674.5,702 678.2,695 684,691.2 689.5,690"/>
<path d="M644.5,715.8 644,760 684,759.5 694.5,759.5"/>
<path d="M602,777.5 609.5,767.5 617,767.5 632,770 634.5,765 644,765"/>
<path d="M634.5,778.2 634,807.5"/>
</g>
<g clip-path="url(#frame)" fill="none" stroke="#000" stroke-width="5.4" stroke-linejoin="round" stroke-linecap="round">
<path d="M106,209.7 228,209.7 229.5,208.6 420,210.2 617,211.3 739,211.6"/>
<path d="M229.5,208.8 231.3,215 234,219 237.5,221.6 245.3,224.2 183.4,675 196.8,901 197.3,903.2 201,900.5 205.4,897.9 210.7,901.4 214.3,898.8 221,900.5 228.6,903.2 228.8,909.5 236.6,911.6 240.2,905 241.2,895 242,887.1 245.5,872.9 250.9,856.8 254,849.5 256.5,851 259,852 262.5,858.6 267,865 270.5,872.9 268.5,878 266,883.6 267,889 270.5,894.3 276,897.5 282,898.8 282.5,902 284.8,905 289,911 292.9,915.7 294,920.4 303,919.8 310.7,918.9 318,916.5 321.4,913.5 318.5,909 316,904.5 319,905 322,909 326,911 332,906 339.3,901.4 345,899 350,896 354,892 353.6,889 349,887.5 343.8,888 342,883 341.1,877.3 343.5,872 346.4,867.5 348,862 347.3,857.7 339,853 330.4,848.8 326,843 321.4,837.1 317,832 313.4,827.3 314.5,822 317.9,817.5 318,812 316.5,808.8 706.2,809.2 704,800 699.7,790.2 694,785.5 691.5,781 690.5,768.1 692,761 694.5,755.6 696.8,742.1 699,735 700.1,728.6 700,721 698.7,715.1 694,708 689.7,702.6 687,694 685.3,685.3 686.5,677 689.1,668.9 693.5,663 697.8,657.3 699.3,649 699,642 702.1,632.3 706,629.5 710.8,628 715,626.5 718,624.4 721.5,621.5 722.4,619 721,616.8 718,614.3 712,610.5 707.1,607 709.5,604 711.5,601.3 711.8,597 710.8,592.6 709.5,586 707.1,579.6 702.5,574 697.8,568.8 694,565 691.3,560.9 689.5,551 687.7,542 684,538 681.2,533.4 678.8,525 676.8,517.5 669.6,480 617,211.3Z"/>
<path d="M706.2,809.2 708.5,812 711.3,815.3 714,821 716.1,826.8 717.5,834 718,842.2 720.5,847.5 724.7,850.9 739,851.3"/>
<path d="M106,899 112,897 128,896 136,899 146.4,905.9 152,906.5 158.9,904.1 164,901.5 167.9,898.8 169.5,902 171.4,905.9 178.6,906.8 183,909 186.6,910.4 190,908.5 192.9,906 197.3,903.2"/>
<path d="M326.8,917.8 343,914 360.7,909.5 375,905.5 400,902 430,899.3 450,898.6 473.6,898.6 490,899.8 505.7,902 525,906.5 545,911.8 561,918.8 577.1,927 590,935 595.7,938.3 598.5,938 601,935.6 604.5,938.5 608.2,942.5 614,947 620.7,951.4 623,956 626,960.4 634,964 644,967.5 649,971 652.9,974.6 655,978.5 656.4,981.8 659.5,985 661.8,988 662,996 660.9,1003.2 668,1003.2 674.3,1004 680,1007.5 685,1012 692,1016 699.3,1018.4 706,1018 711.8,1016.6 724,1010 739,1002.5"/>
<path d="M362,908.5 366.4,899.1 367.9,896.8 372,894.8 377.1,892.9 381.6,888.4 382.9,880.4 378.9,873.2 381.6,869.3 387.9,874.1 391.4,882.1 393.6,891.4 397.1,889.6 402.1,880.4 404.3,870.5 402.5,867.3 407.9,868.2 412.9,872.3 413.4,875.9 407.5,878.6 409.6,883.4 416.4,887.5 422.1,888.8 424.5,892 417.3,894.1"/>
<path d="M464,895.5 468.2,893 473,890 479,887.7 485.2,886.8 484.5,883 483.4,879.6 489,880 495,881.4 493.5,885 491.4,888.6 496,887 500.4,885.9 507,884 514.6,883.2 520,882.8 525.4,883.2 528.5,885.5 530.7,888.6 533.5,887.2 536,886.8 537.2,890.5 537.9,894 540,896.5 541.4,899.3 540,901.5 537.9,902.9 532,899 527,895.7 523,893.5 519,893 520.7,896 521.8,899.3 518,899.2 514.6,898.4 512,896 510,894 508.5,897 507.5,900.5"/>
<path d="M578.5,923.5 577.9,919.3 579,916.5 581.4,914.8 586,914.2 590.4,914 592.5,912 594,910.4 597,914.5 600.2,918.4 606,917 611.8,915.7 615.5,913.5 619,911.3 622,912.5 623.4,914.8 619.5,918.5 615.4,922 610,922.6 604.6,922.9 600,927 595.7,931.8 593,927 590.4,922.9 585,922.7 579.6,922.9"/>
<path d="M602.9,933.6 612,936.5 620.7,939 627,938.8 633.2,938 635,943 636.8,947.9 642,950 647.5,951.4 644,954 640.4,955.9 634,952.8 627.9,949.6 623.5,947.5 619,946"/>
<path d="M646.6,978.2 646.4,985 646.8,990.7 647.8,995.5 649.3,999.6 651.7,1003.8 654.6,1006.6 658,1005.5 660.9,1003.2"/>
<path d="M668,1003.2 678,1001 688.6,998.8 697,1000 706.4,1002.3 709.5,999.5 711.8,997 714,994 717,991.6 721.5,989.5 726,988 724.5,993 722.5,997.9 730,995 739,991.5"/>
<path d="M686.5,1005.5 690,1004.5 692.5,1006.5 692,1009.5 689,1010.8 686,1009.5 685.5,1007"/>
<path d="M327,916 361,908 373.6,901.8 391.4,896.8 412.9,894.6 445,893.8 471.8,894.6 506,897.5 506,903.5 471.8,900.9 427.1,903 391.4,907.5 361,912 327,918.8Z" fill="#000" stroke-width="2"/>
<path d="M380.5,870 382.5,869.3" stroke-width="8"/>
<path d="M403,867.6 408,868.4 412.5,872" stroke-width="7.5"/>
<path d="M416.4,887.5 421.5,888.8" stroke-width="6.5"/>
<path d="M378.9,873.2 382.9,880.4 381.6,888.4" stroke-width="6.5"/>
<path d="M402.1,880.4 404.3,870.5" stroke-width="6.5"/>
<path d="M126,950 130,953 133,957.5" stroke-width="7.5"/>
<path d="M134,962 135.3,968 135.2,974.5" stroke-width="7"/>
<path d="M132.8,979 131,988" stroke-width="6.5"/>
<path d="M127.5,993.5 124,999.5" stroke-width="6.5"/>
<path d="M119.5,1003 114.5,1009.5" stroke-width="6.5"/>
<path d="M111.5,1012.5 110,1013.5" stroke-width="6"/>
<path d="M106,899.5 113,897.5 122,895.5 129,896.5" stroke-width="8.5"/>
<path d="M111.5,927.6 117.5,926.6" stroke-width="7"/>
<path d="M141,919.6 150,920 160,922.5 170,924.3" stroke-width="8.5"/>
<path d="M166,924.6 176,925.8" stroke-width="6.5"/>
<path d="M183,926 192,926.8" stroke-width="6.5"/>
<path d="M212,923.5 225,921.3 238,919.3 245.5,919.3" stroke-width="8.5"/>
<path d="M240,918 243.5,917" stroke-width="5.5"/>
<path d="M254.5,924.3 262,922.5 268,921.2 280,921.3 294,920.6" stroke-width="8"/>
<path d="M266.5,919.5 268,918.2" stroke-width="5.5"/>
<path d="M481,899.2 496,900.2 505,901.6" stroke-width="7.5"/>
<path d="M616,912.5 621.5,910.5 622.5,913.5" stroke-width="7.5"/>
<path d="M641,951 646.5,951" stroke-width="8"/>
<path d="M601,934 606,939" stroke-width="8"/>
<path d="M621,952 628,958.5 636,962" stroke-width="7.5"/>
<path d="M646.6,979 646.4,985 646.8,990.7 647.8,995.5 649.3,999.6 651.7,1003.8 654.6,1006.4" stroke-width="7.5"/>
<path d="M722,988 726.5,987" stroke-width="6.5"/>
<path d="M351.5,890.5 354,889" stroke-width="6.5"/>
<path d="M254,847.5 254.6,850.5" stroke-width="7.5"/>
</g>
<g>
<polygon fill="#3a86c8" points="219.5,960.8 235.0,959.9 223.6,980.8 239.5,979.8 251.7,959.1 269.2,959.1 275.6,967.9 291.1,968.9 285.3,960.4 301.4,961.2 320.7,995.0 304.6,993.7 296.9,978.9 280.1,978.2 287.9,991.1 272.4,990.5 260.8,972.4 249.8,990.5 233.7,991.5 214.3,993.7 200.2,996.3"/>
<polygon fill="#3a86c8" points="260.1,980.8 265.7,988.5 260.5,987.8 255.4,988.8"/>
<g font-family="'Liberation Sans',sans-serif" fill="#111" stroke="#111" stroke-width="0.35" text-anchor="middle">
<text x="260.2" y="1011.7" font-size="12.4" textLength="135.5" lengthAdjust="spacingAndGlyphs">THE ALABAMA STATE</text>
<text x="260.6" y="1025.1" font-size="12.4" textLength="104.5" lengthAdjust="spacingAndGlyphs">CLIMATOLOGIST</text>
<text x="260.2" y="1037.6" font-size="6.9" stroke-width="0.12" textLength="142.5" lengthAdjust="spacingAndGlyphs">THE UNIVERSITY OF ALABAMA IN HUNTSVILLE</text>
</g>
</g>
<rect x="107.7" y="150.3" width="629.8" height="913.8" fill="none" stroke="#000" stroke-width="2.7"/>
<g shape-rendering="crispEdges">
<rect x="798.6" y="998.8" width="45.9" height="65.3" fill="#8b4040"/>
<rect x="798.6" y="933.6" width="45.9" height="65.3" fill="#b04540"/>
<rect x="798.6" y="868.3" width="45.9" height="65.3" fill="#e64d45"/>
<rect x="798.6" y="803" width="45.9" height="65.3" fill="#ebae52"/>
<rect x="798.6" y="737.7" width="45.9" height="65.3" fill="#f5dc8e"/>
<rect x="798.6" y="672.5" width="45.9" height="65.3" fill="#f7f55e"/>
<rect x="798.6" y="607.2" width="45.9" height="65.3" fill="#f2f5b8"/>
<rect x="798.6" y="541.9" width="45.9" height="65.3" fill="#e0e0e0"/>
<rect x="798.6" y="476.7" width="45.9" height="65.3" fill="#7df068"/>
<rect x="798.6" y="411.4" width="45.9" height="65.3" fill="#52854d"/>
<rect x="798.6" y="346.1" width="45.9" height="65.3" fill="#73cff2"/>
<rect x="798.6" y="280.8" width="45.9" height="65.3" fill="#3f4fa6"/>
<rect x="798.6" y="215.6" width="45.9" height="65.3" fill="#9079dc"/>
<rect x="798.6" y="150.3" width="45.9" height="65.3" fill="#ab6bdc"/>
</g>
<rect x="798.6" y="150.3" width="45.9" height="913.8" fill="none" stroke="#000" stroke-width="2.7"/>
<line x1="844.5" y1="1064.1" x2="857" y2="1064.1" stroke="#000" stroke-width="2.7"/>
<text class="dj" x="868.2" y="1077" font-size="34.4">0</text>
<line x1="844.5" y1="998.8" x2="857" y2="998.8" stroke="#000" stroke-width="2.7"/>
<text class="dj" x="868.2" y="1011.7" font-size="34.4">5</text>
<line x1="844.5" y1="933.6" x2="857" y2="933.6" stroke="#000" stroke-width="2.7"/>
<text class="dj" x="868.2" y="946.5" font-size="34.4">10</text>
<line x1="844.5" y1="868.3" x2="857" y2="868.3" stroke="#000" stroke-width="2.7"/>
<text class="dj" x="868.2" y="881.2" font-size="34.4">25</text>
<line x1="844.5" y1="803" x2="857" y2="803" stroke="#000" stroke-width="2.7"/>
<text class="dj" x="868.2" y="815.9" font-size="34.4">50</text>
<line x1="844.5" y1="737.7" x2="857" y2="737.7" stroke="#000" stroke-width="2.7"/>
<text class="dj" x="868.2" y="750.6" font-size="34.4">75</text>
<line x1="844.5" y1="672.5" x2="857" y2="672.5" stroke="#000" stroke-width="2.7"/>
<text class="dj" x="868.2" y="685.4" font-size="34.4">90</text>
<line x1="844.5" y1="607.2" x2="857" y2="607.2" stroke="#000" stroke-width="2.7"/>
<text class="dj" x="868.2" y="620.1" font-size="34.4">100</text>
<line x1="844.5" y1="541.9" x2="857" y2="541.9" stroke="#000" stroke-width="2.7"/>
<text class="dj" x="868.2" y="554.8" font-size="34.4">110</text>
<line x1="844.5" y1="476.7" x2="857" y2="476.7" stroke="#000" stroke-width="2.7"/>
<text class="dj" x="868.2" y="489.6" font-size="34.4">125</text>
<line x1="844.5" y1="411.4" x2="857" y2="411.4" stroke="#000" stroke-width="2.7"/>
<text class="dj" x="868.2" y="424.3" font-size="34.4">150</text>
<line x1="844.5" y1="346.1" x2="857" y2="346.1" stroke="#000" stroke-width="2.7"/>
<text class="dj" x="868.2" y="359" font-size="34.4">200</text>
<line x1="844.5" y1="280.8" x2="857" y2="280.8" stroke="#000" stroke-width="2.7"/>
<text class="dj" x="868.2" y="293.7" font-size="34.4">300</text>
<line x1="844.5" y1="215.6" x2="857" y2="215.6" stroke="#000" stroke-width="2.7"/>
<text class="dj" x="868.2" y="228.5" font-size="34.4">400</text>
<line x1="844.5" y1="150.3" x2="857" y2="150.3" stroke="#000" stroke-width="2.7"/>
<text class="dj" x="868.2" y="163.2" font-size="34.4">600</text>
<text class="dj" font-size="34.4" text-anchor="middle" transform="translate(975.8 611.3) rotate(-90)">Percentage</text>
</svg>
<div class="cap" style="top:1138px">Figure 1.</div>
<div class="cap" style="top:1192px">Data source: NCEP Stage IV Quantitative Precipitation Estimates</div>
</body>
</html>
